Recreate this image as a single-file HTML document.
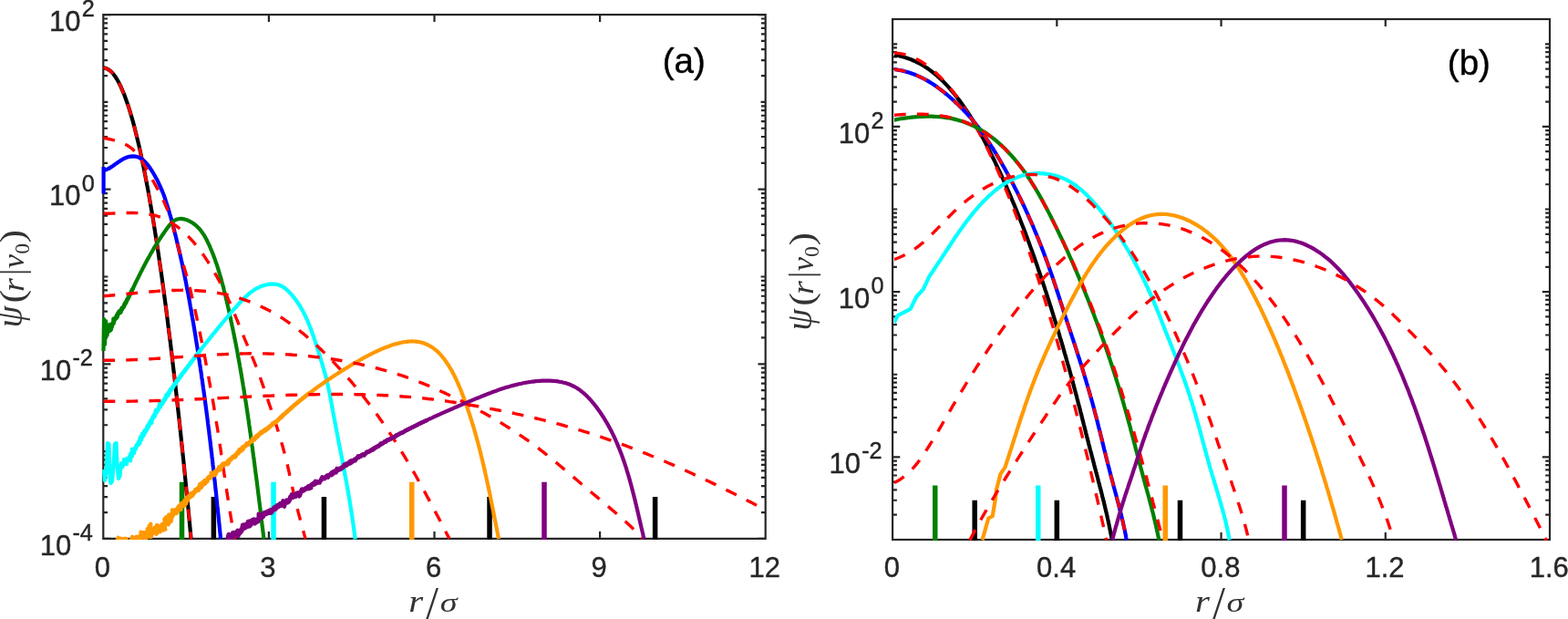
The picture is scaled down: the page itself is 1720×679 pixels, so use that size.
<!DOCTYPE html>
<html lang="en">
<head>
<meta charset="utf-8">
<title>psi(r|v0) distributions</title>
<style>
html,body{margin:0;padding:0;background:#fff;}
body{width:1720px;height:679px;overflow:hidden;}
svg{display:block;}
</style>
</head>
<body>
<svg width="1720" height="679" viewBox="0 0 1720 679">
<rect width="1720" height="679" fill="#ffffff"/>
<defs>
<clipPath id="ca"><rect x="111.10" y="16.1" width="729.80" height="575.80"/></clipPath>
<clipPath id="cb"><rect x="980.90" y="21.0" width="720.30" height="572.00"/></clipPath>
</defs>
<g font-family="'Liberation Sans', Arial, Helvetica, sans-serif" fill="#262626" stroke="#262626" stroke-width="0.4">
<path d="M113.3 562.06h4.8M839.7 562.06h-4.8M113.3 545.19h4.8M839.7 545.19h-4.8M113.3 533.22h4.8M839.7 533.22h-4.8M113.3 523.94h4.8M839.7 523.94h-4.8M113.3 516.35h4.8M839.7 516.35h-4.8M113.3 509.94h4.8M839.7 509.94h-4.8M113.3 504.38h4.8M839.7 504.38h-4.8M113.3 499.48h4.8M839.7 499.48h-4.8M113.3 495.1h5.1M839.7 495.1h-5.1M113.3 466.26h4.8M839.7 466.26h-4.8M113.3 449.39h4.8M839.7 449.39h-4.8M113.3 437.42h4.8M839.7 437.42h-4.8M113.3 428.14h4.8M839.7 428.14h-4.8M113.3 420.55h4.8M839.7 420.55h-4.8M113.3 414.14h4.8M839.7 414.14h-4.8M113.3 408.58h4.8M839.7 408.58h-4.8M113.3 403.68h4.8M839.7 403.68h-4.8M113.3 370.46h4.8M839.7 370.46h-4.8M113.3 353.59h4.8M839.7 353.59h-4.8M113.3 341.62h4.8M839.7 341.62h-4.8M113.3 332.34h4.8M839.7 332.34h-4.8M113.3 324.75h4.8M839.7 324.75h-4.8M113.3 318.34h4.8M839.7 318.34h-4.8M113.3 312.78h4.8M839.7 312.78h-4.8M113.3 307.88h4.8M839.7 307.88h-4.8M113.3 303.5h5.1M839.7 303.5h-5.1M113.3 274.66h4.8M839.7 274.66h-4.8M113.3 257.79h4.8M839.7 257.79h-4.8M113.3 245.82h4.8M839.7 245.82h-4.8M113.3 236.54h4.8M839.7 236.54h-4.8M113.3 228.95h4.8M839.7 228.95h-4.8M113.3 222.54h4.8M839.7 222.54h-4.8M113.3 216.98h4.8M839.7 216.98h-4.8M113.3 212.08h4.8M839.7 212.08h-4.8M113.3 178.86h4.8M839.7 178.86h-4.8M113.3 161.99h4.8M839.7 161.99h-4.8M113.3 150.02h4.8M839.7 150.02h-4.8M113.3 140.74h4.8M839.7 140.74h-4.8M113.3 133.15h4.8M839.7 133.15h-4.8M113.3 126.74h4.8M839.7 126.74h-4.8M113.3 121.18h4.8M839.7 121.18h-4.8M113.3 116.28h4.8M839.7 116.28h-4.8M113.3 111.9h5.1M839.7 111.9h-5.1M113.3 83.06h4.8M839.7 83.06h-4.8M113.3 66.19h4.8M839.7 66.19h-4.8M113.3 54.22h4.8M839.7 54.22h-4.8M113.3 44.94h4.8M839.7 44.94h-4.8M113.3 37.35h4.8M839.7 37.35h-4.8M113.3 30.94h4.8M839.7 30.94h-4.8M113.3 25.38h4.8M839.7 25.38h-4.8M113.3 20.48h4.8M839.7 20.48h-4.8" stroke="#262626" stroke-width="2.2" fill="none"/>
<path d="M113.3 590.9h8.2M839.7 590.9h-8.2M113.3 399.3h8.2M839.7 399.3h-8.2M113.3 207.7h8.2M839.7 207.7h-8.2M113.3 16.1h8.2M839.7 16.1h-8.2M294.9 590.9v-8M294.9 16.1v8M476.5 590.9v-8M476.5 16.1v8M658.1 590.9v-8M658.1 16.1v8" stroke="#262626" stroke-width="2.2" fill="none"/>
<rect x="113.3" y="16.1" width="726.4" height="574.8" fill="none" stroke="#262626" stroke-width="2.2"/>
<g clip-path="url(#ca)">
<rect x="196.75" y="528.75" width="5.5" height="63.15" fill="#008000" stroke="none"/>
<rect x="297.25" y="528.75" width="5.5" height="63.15" fill="#00ffff" stroke="none"/>
<rect x="449" y="528.75" width="5.5" height="63.15" fill="#ff9900" stroke="none"/>
<rect x="594.25" y="528.75" width="5.5" height="63.15" fill="#800080" stroke="none"/>
<rect x="231.62" y="545" width="5.5" height="46.9" fill="#000000" stroke="none"/>
<rect x="352.68" y="545" width="5.5" height="46.9" fill="#000000" stroke="none"/>
<rect x="534.28" y="545" width="5.5" height="46.9" fill="#000000" stroke="none"/>
<rect x="715.88" y="545" width="5.5" height="46.9" fill="#000000" stroke="none"/>
<path d="M113.3 74.5L114.9 74.6L116.6 75.1L118.2 75.8L119.8 76.9L121.5 78.2L123.1 79.8L124.7 81.8L126.4 84.0L128.0 86.5L129.6 89.3L131.3 92.5L132.9 95.9L134.5 99.6L136.2 103.6L137.8 107.9L139.4 112.5L141.1 117.4L142.7 122.6L144.3 128.1L146.0 133.9L147.6 140.0L149.2 146.4L150.8 153.0L152.5 160.0L154.1 167.3L155.7 174.9L157.4 182.7L159.0 190.9L160.6 199.4L162.3 208.1L163.9 217.2L165.5 226.5L167.2 236.2L168.8 246.1L170.4 256.4L172.1 266.9L173.7 277.7L175.3 288.9L177.0 300.3L178.6 312.0L180.2 324.1L181.9 336.4L183.5 349.0L185.1 361.9L186.8 375.1L188.4 388.6L190.0 402.5L191.7 416.6L193.3 431.0L194.9 445.7L196.6 460.7L198.2 475.9L199.8 491.5L201.5 507.4L203.1 523.6L204.7 540.1L206.4 556.9L208.0 573.9L209.6 591.3" fill="none" stroke="#000000" stroke-width="4.2" stroke-linejoin="round"/>
<path d="M113.3 74.5L114.9 74.6L116.6 75.1L118.2 75.8L119.8 76.9L121.5 78.2L123.1 79.8L124.7 81.8L126.4 84.0L128.0 86.5L129.6 89.3L131.3 92.5L132.9 95.9L134.5 99.6L136.2 103.6L137.8 107.9L139.4 112.5L141.1 117.4L142.7 122.6L144.3 128.1L146.0 133.9L147.6 140.0L149.2 146.4L150.8 153.0L152.5 160.0L154.1 167.3L155.7 174.9L157.4 182.7L159.0 190.9L160.6 199.4L162.3 208.1L163.9 217.2L165.5 226.5L167.2 236.2L168.8 246.1L170.4 256.4L172.1 266.9L173.7 277.7L175.3 288.9L177.0 300.3L178.6 312.0L180.2 324.1L181.9 336.4L183.5 349.0L185.1 361.9L186.8 375.1L188.4 388.6L190.0 402.5L191.7 416.6L193.3 431.0L194.9 445.7L196.6 460.7L198.2 475.9L199.8 491.5L201.5 507.4L203.1 523.6L204.7 540.1L206.4 556.9L208.0 573.9L209.6 591.3" fill="none" stroke="#ff0000" stroke-width="3.4" stroke-linejoin="round" stroke-dasharray="12.8 12.2"/>
<path d="M113.6 212.5V183" fill="none" stroke="#0000ff" stroke-width="4.2"/>
<path d="M114.1 186.9L116.4 186.2L118.9 185.1L121.3 183.6L123.9 181.9L126.5 180.1L129.1 178.2L131.8 176.4L134.6 174.7L137.4 173.3L140.2 172.2L143.1 171.6L145.9 171.4L148.7 171.6L151.4 172.3L154.0 173.5L156.4 175.1L158.6 177.0L160.7 179.3L162.7 181.7L164.5 184.3L166.3 186.9L167.9 189.5L169.5 192.2L171.0 194.9L172.5 197.6L173.8 200.3L175.1 203.1L176.4 205.9L177.5 208.7L178.7 211.5L179.8 214.3L180.8 217.2L181.8 220.1L182.7 223.0L183.6 225.8L184.5 228.7L185.4 231.7L186.2 234.6L187.1 237.5L187.9 240.4L188.7 243.4L189.4 246.3L190.2 249.2L191.0 252.2L191.7 255.1L192.5 258.1L193.2 261.0L193.9 264.0L194.6 266.9L195.3 269.9L196.0 272.8L196.7 275.8L197.4 278.7L198.1 281.7L198.7 284.7L199.4 287.6L200.0 290.6L200.6 293.6L201.3 296.5L201.9 299.5L202.5 302.5L203.1 305.5L203.7 308.4L204.3 311.4L204.8 314.4L205.4 317.4L206.0 320.4L206.6 323.4L207.1 326.4L207.7 329.3L208.2 332.3L208.7 335.3L209.3 338.3L209.8 341.3L210.3 344.3L210.8 347.3L211.4 350.3L211.9 353.3L212.4 356.3L212.9 359.3L213.4 362.3L213.9 365.3L214.4 368.3L214.8 371.3L215.3 374.3L215.8 377.3L216.3 380.3L216.7 383.3L217.2 386.3L217.7 389.3L218.1 392.3L218.6 395.3L219.0 398.3L219.5 401.3L219.9 404.3L220.4 407.3L220.8 410.3L221.2 413.3L221.7 416.3L222.1 419.3L222.5 422.3L222.9 425.3L223.4 428.3L223.8 431.4L224.2 434.4L224.6 437.4L225.0 440.4L225.4 443.4L225.8 446.4L226.2 449.4L226.6 452.4L227.0 455.4L227.4 458.5L227.8 461.5L228.1 464.5L228.5 467.5L228.9 470.5L229.3 473.5L229.6 476.5L230.0 479.5L230.4 482.6L230.7 485.6L231.1 488.6L231.4 491.6L231.8 494.6L232.2 497.6L232.5 500.7L232.9 503.7L233.2 506.7L233.5 509.7L233.9 512.7L234.2 515.8L234.6 518.8L234.9 521.8L235.2 524.8L235.6 527.8L235.9 530.9L236.2 533.9L236.5 536.9L236.9 539.9L237.2 542.9L237.5 546.0L237.8 549.0L238.1 552.0L238.4 555.0L238.8 558.0L239.1 561.1L239.4 564.1L239.7 567.1L240.0 570.1L240.3 573.2L240.6 576.2L240.9 579.2L241.2 582.2L241.5 585.3L241.8 588.3L242.1 591.3" fill="none" stroke="#0000ff" stroke-width="4.2" stroke-linejoin="round"/>
<path d="M113.4 151.3L116.3 151.8L119.2 152.5L122.2 153.2L125.3 153.9L128.3 154.8L131.3 155.7L134.2 156.8L137.0 158.1L139.6 159.5L142.1 161.1L144.5 162.8L146.6 164.8L148.6 166.9L150.5 169.2L152.2 171.6L153.9 174.0L155.5 176.6L157.0 179.2L158.5 181.9L160.0 184.5L161.5 187.2L163.1 189.8L164.6 192.5L166.1 195.2L167.6 197.8L169.1 200.5L170.5 203.1L172.0 205.8L173.5 208.5L174.9 211.2L176.3 213.9L177.6 216.6L178.9 219.3L180.2 222.0L181.4 224.8L182.6 227.6L183.8 230.3L184.9 233.2L185.9 236.0L186.9 238.8L187.8 241.7L188.6 244.6L189.4 247.5L190.2 250.4L190.9 253.4L191.7 256.3L192.4 259.2L193.1 262.2L193.9 265.1L194.6 268.0L195.4 271.0L196.2 273.9L197.1 276.8L197.9 279.7L198.8 282.6L199.7 285.5L200.6 288.4L201.4 291.3L202.3 294.2L203.2 297.1L204.0 300.0L204.8 302.9L205.6 305.8L206.4 308.7L207.2 311.6L207.9 314.5L208.7 317.5L209.4 320.4L210.1 323.3L210.8 326.3L211.5 329.2L212.2 332.2L212.9 335.1L213.5 338.1L214.2 341.0L214.8 344.0L215.5 346.9L216.1 349.9L216.7 352.8L217.4 355.8L218.0 358.8L218.6 361.7L219.2 364.7L219.8 367.6L220.4 370.6L221.0 373.6L221.6 376.5L222.2 379.5L222.8 382.5L223.4 385.4L224.0 388.4L224.6 391.4L225.2 394.3L225.7 397.3L226.3 400.3L226.9 403.2L227.4 406.2L228.0 409.2L228.6 412.2L229.1 415.1L229.6 418.1L230.2 421.1L230.7 424.1L231.3 427.0L231.8 430.0L232.3 433.0L232.8 436.0L233.4 439.0L233.9 441.9L234.4 444.9L234.9 447.9L235.4 450.9L235.9 453.9L236.4 456.9L236.9 459.8L237.3 462.8L237.8 465.8L238.3 468.8L238.8 471.8L239.2 474.8L239.7 477.8L240.2 480.8L240.6 483.7L241.1 486.7L241.5 489.7L242.0 492.7L242.4 495.7L242.8 498.7L243.3 501.7L243.7 504.7L244.2 507.7L244.6 510.7L245.0 513.7L245.5 516.7L245.9 519.6L246.4 522.6L246.8 525.6L247.2 528.6L247.7 531.6L248.1 534.6L248.6 537.6L249.0 540.6L249.5 543.6L250.0 546.6L250.4 549.5L250.9 552.5L251.4 555.5L251.8 558.5L252.3 561.5L252.8 564.5L253.3 567.5L253.8 570.4L254.3 573.4L254.8 576.4L255.4 579.4L255.9 582.4L256.4 585.3L257.0 588.3L257.5 591.3" fill="none" stroke="#ff0000" stroke-width="3.4" stroke-linejoin="round" stroke-dasharray="12.8 12.2"/>
<path d="M113.5 385L114 350L115 378L116 352L117.5 368L119 357L121 362" fill="none" stroke="#008000" stroke-width="4.2" stroke-linejoin="round"/>
<path d="M114.5 367.6L116.5 364.6L116.7 362.6L118.6 357.6L120.2 362.2L120.2 363.2L121.8 361.8L122.3 357.2L124.0 354.2L124.6 355.0L124.4 349.5L125.1 350.2L126.4 350.3L128.2 348.7L128.9 347.2L129.6 343.8L130.2 342.1L131.0 343.0L132.2 342.2L132.9 339.8L133.5 337.8L134.4 337.6L135.6 336.8L136.6 334.6L137.1 332.7L137.6 332.8L138.6 330.9L139.3 328.9L140.3 327.6L140.9 325.9L141.6 325.1L142.5 323.2L143.1 321.7L143.8 320.4L144.5 319.0L145.3 317.5L146.0 316.1" fill="none" stroke="#008000" stroke-width="4.2" stroke-linejoin="round"/>
<path d="M115.0 364.8L116.2 361.6L118.2 362.3L118.7 362.5L120.2 360.6L119.9 356.2L121.4 359.6L122.6 359.2L123.0 355.3L124.8 352.3L124.6 350.8L125.7 349.5L125.8 350.5L126.9 348.1L127.9 346.0L129.0 344.0L129.9 342.7L131.2 343.1L132.2 341.5L132.9 339.4L133.9 339.1L134.6 337.5L135.3 337.5L136.0 334.8L136.9 332.7L137.9 332.8L138.7 330.5L139.2 328.7L140.1 328.2L141.0 326.1L141.7 325.1L142.4 323.3L143.1 321.7L143.8 320.4L144.6 319.0L145.3 317.5L146.0 316.1" fill="none" stroke="#008000" stroke-width="4.2" stroke-linejoin="round"/>
<path d="M115.8 368.1L115.0 357.5L117.9 364.5L118.7 361.8L118.7 362.7L120.6 359.8L121.8 360.7L123.1 356.5L123.6 354.3L124.1 354.5L125.2 352.8L125.8 350.4L126.4 349.2L127.1 349.0L128.4 347.5L129.3 344.9L130.7 343.7L130.9 341.0L132.4 342.9L132.9 339.8L134.0 339.7L134.4 337.6L135.3 337.2L136.2 335.5L137.2 333.4L137.9 332.5L138.8 330.0L139.5 329.5L140.3 327.1L140.9 326.2L141.6 325.0L142.4 323.3L143.1 321.8L143.9 320.3L144.5 318.9L145.3 317.5L146.0 316.1L146.7 314.6L147.4 313.2L148.0 311.7L148.7 310.3L149.4 308.8L150.2 307.4L150.9 305.9L151.6 304.5L152.3 303.0L153.0 301.6L153.7 300.2L154.4 298.7L155.2 297.3L155.9 295.9L156.6 294.4L157.4 293.0L158.1 291.6L158.9 290.1L159.6 288.7L160.4 287.3L161.1 285.9L161.9 284.5L162.7 283.1L163.5 281.7L164.3 280.3L165.0 278.9L165.8 277.5L166.7 276.1L167.5 274.7L168.3 273.3L169.1 271.9L169.9 270.5L170.8 269.2L171.6 267.8L172.5 266.4L173.3 265.1L174.2 263.7L175.1 262.4L176.0 261.0L176.9 259.7L177.8 258.3L178.7 257.0L179.6 255.7L180.5 254.4L181.4 253.1L182.4 251.7L183.3 250.4L184.3 249.2L185.3 247.9L186.3 246.6L187.4 245.4L188.5 244.3L189.7 243.2L190.9 242.2L192.3 241.4L193.8 240.7L195.3 240.3L196.9 240.0L198.5 239.9L200.1 240.1L201.7 240.3L203.2 240.8L204.8 241.2L206.2 241.9L207.7 242.5L209.1 243.3L210.5 244.1L211.9 245.0L213.2 245.9L214.4 246.9L215.7 248.0L216.8 249.1L218.0 250.2L219.0 251.4L220.1 252.7L221.0 253.9L222.0 255.2L222.9 256.6L223.8 257.9L224.6 259.3L225.4 260.7L226.2 262.1L226.9 263.5L227.6 265.0L228.3 266.4L229.0 267.9L229.7 269.3L230.3 270.8L230.9 272.3L231.6 273.8L232.2 275.3L232.8 276.8L233.4 278.2L234.0 279.7L234.5 281.3L235.1 282.8L235.7 284.3L236.2 285.8L236.7 287.3L237.2 288.8L237.8 290.3L238.3 291.9L238.8 293.4L239.3 294.9L239.7 296.5L240.2 298.0L240.7 299.6L241.1 301.1L241.6 302.6L242.0 304.2L242.5 305.7L242.9 307.3L243.3 308.8L243.7 310.4L244.1 311.9L244.6 313.5L245.0 315.1L245.4 316.6L245.7 318.2L246.1 319.7L246.5 321.3L246.9 322.9L247.3 324.4L247.7 326.0L248.0 327.6L248.4 329.1L248.8 330.7L249.1 332.3L249.5 333.8L249.8 335.4L250.2 337.0L250.6 338.5L250.9 340.1L251.3 341.7L251.6 343.2L251.9 344.8L252.3 346.4L252.6 348.0L253.0 349.5L253.3 351.1L253.6 352.7L254.0 354.3L254.3 355.8L254.6 357.4L255.0 359.0L255.3 360.6L255.6 362.1L255.9 363.7L256.3 365.3L256.6 366.9L256.9 368.4L257.2 370.0L257.5 371.6L257.8 373.2L258.1 374.8L258.5 376.3L258.8 377.9L259.1 379.5L259.4 381.1L259.7 382.7L260.0 384.2L260.3 385.8L260.6 387.4L260.8 389.0L261.1 390.6L261.4 392.1L261.7 393.7L262.0 395.3L262.3 396.9L262.6 398.5L262.9 400.1L263.1 401.6L263.4 403.2L263.7 404.8L264.0 406.4L264.2 408.0L264.5 409.6L264.8 411.2L265.0 412.7L265.3 414.3L265.6 415.9L265.8 417.5L266.1 419.1L266.4 420.7L266.6 422.3L266.9 423.9L267.2 425.4L267.4 427.0L267.7 428.6L267.9 430.2L268.2 431.8L268.4 433.4L268.7 435.0L268.9 436.6L269.2 438.2L269.4 439.7L269.7 441.3L269.9 442.9L270.2 444.5L270.4 446.1L270.6 447.7L270.9 449.3L271.1 450.9L271.4 452.5L271.6 454.1L271.8 455.7L272.1 457.2L272.3 458.8L272.5 460.4L272.8 462.0L273.0 463.6L273.2 465.2L273.4 466.8L273.7 468.4L273.9 470.0L274.1 471.6L274.3 473.2L274.6 474.8L274.8 476.4L275.0 478.0L275.2 479.5L275.5 481.1L275.7 482.7L275.9 484.3L276.1 485.9L276.3 487.5L276.5 489.1L276.8 490.7L277.0 492.3L277.2 493.9L277.4 495.5L277.6 497.1L277.8 498.7L278.0 500.3L278.3 501.9L278.5 503.5L278.7 505.1L278.9 506.7L279.1 508.3L279.3 509.8L279.5 511.4L279.7 513.0L279.9 514.6L280.1 516.2L280.3 517.8L280.5 519.4L280.7 521.0L281.0 522.6L281.2 524.2L281.4 525.8L281.6 527.4L281.8 529.0L282.0 530.6L282.2 532.2L282.4 533.8L282.6 535.4L282.8 537.0L283.0 538.6L283.2 540.2L283.4 541.8L283.6 543.4L283.8 545.0L284.0 546.6L284.2 548.2L284.4 549.8L284.6 551.3L284.8 552.9L285.0 554.5L285.2 556.1L285.4 557.7L285.6 559.3L285.8 560.9L286.0 562.5L286.2 564.1L286.4 565.7L286.6 567.3L286.8 568.9L286.9 570.5L287.1 572.1L287.3 573.7L287.5 575.3L287.7 576.9L287.9 578.5L288.1 580.1L288.3 581.7L288.5 583.3L288.7 584.9L288.9 586.5L289.1 588.1L289.3 589.7L289.5 591.3" fill="none" stroke="#008000" stroke-width="4.2" stroke-linejoin="round"/>
<path d="M113.6 234.3L116.4 234.3L119.3 234.2L122.3 234.1L125.2 234.0L128.2 233.9L131.3 233.7L134.3 233.6L137.4 233.5L140.5 233.5L143.6 233.4L146.7 233.5L149.8 233.6L152.8 233.7L155.9 233.9L158.9 234.2L161.9 234.7L164.9 235.2L167.8 235.8L170.7 236.5L173.6 237.4L176.4 238.4L179.1 239.6L181.8 240.8L184.4 242.2L187.0 243.7L189.5 245.2L192.0 246.9L194.4 248.7L196.8 250.5L199.2 252.5L201.4 254.5L203.7 256.6L205.8 258.7L208.0 260.9L210.0 263.1L212.1 265.4L214.1 267.8L216.0 270.1L217.9 272.5L219.7 274.9L221.5 277.4L223.3 279.9L225.0 282.4L226.6 284.9L228.3 287.4L229.9 290.0L231.5 292.5L233.1 295.1L234.6 297.7L236.1 300.3L237.6 302.9L239.1 305.6L240.5 308.2L242.0 310.9L243.3 313.5L244.7 316.2L246.1 318.9L247.4 321.6L248.6 324.4L249.9 327.1L251.1 329.9L252.4 332.6L253.6 335.4L254.7 338.2L255.9 341.0L257.1 343.8L258.2 346.6L259.3 349.4L260.5 352.2L261.6 355.0L262.7 357.8L263.8 360.6L265.0 363.4L266.1 366.2L267.3 369.0L268.4 371.8L269.6 374.6L270.8 377.4L271.9 380.2L273.1 382.9L274.3 385.7L275.5 388.5L276.6 391.3L277.8 394.1L278.9 396.9L280.0 399.7L281.1 402.5L282.2 405.3L283.2 408.2L284.3 411.0L285.3 413.8L286.3 416.7L287.3 419.6L288.3 422.4L289.3 425.3L290.2 428.1L291.2 431.0L292.2 433.9L293.2 436.7L294.2 439.6L295.1 442.4L296.1 445.3L297.1 448.2L298.0 451.1L299.0 453.9L300.0 456.8L300.9 459.7L301.8 462.5L302.7 465.4L303.7 468.3L304.6 471.2L305.5 474.1L306.3 477.0L307.2 479.9L308.1 482.8L308.9 485.7L309.7 488.6L310.6 491.5L311.3 494.4L312.1 497.3L312.9 500.2L313.6 503.1L314.4 506.1L315.1 509.0L315.7 511.9L316.4 514.9L317.1 517.8L317.7 520.8L318.3 523.8L319.0 526.7L319.6 529.7L320.2 532.6L320.9 535.6L321.6 538.5L322.2 541.5L322.9 544.4L323.6 547.4L324.3 550.3L325.0 553.3L325.8 556.2L326.5 559.1L327.2 562.1L328.0 565.0L328.8 567.9L329.5 570.9L330.3 573.8L331.1 576.7L331.9 579.6L332.7 582.5L333.5 585.4L334.3 588.4L335.1 591.3" fill="none" stroke="#ff0000" stroke-width="3.4" stroke-linejoin="round" stroke-dasharray="12.8 12.2"/>
<path d="M114 515L115 527L116.5 518L118 486L119.5 487L120.5 520L121.5 530L123 528L124.5 512L126 487L127.5 486L128.5 510L130 525L131.5 522L133 508L134.5 512L136 504L137.5 509L139 503L140.5 505" fill="none" stroke="#00ffff" stroke-width="4.2" stroke-linejoin="round"/>
<path d="M137.7 507.2L137.4 504.9L139.6 505.3L140.9 502.6L142.3 502.7L143.1 505.4L143.3 500.5L144.6 499.7L145.3 495.7L144.9 494.2L146.8 495.7L148.2 491.4L149.3 490.1L148.9 490.9L149.9 488.1L151.2 488.5L152.1 484.7L152.8 486.1L153.7 479.9L154.3 480.6L154.7 478.6L155.3 479.4L156.1 475.6L157.5 477.8L157.8 473.6L158.8 474.9L159.4 472.1L160.7 472.2L161.2 470.9L162.8 467.3L162.7 466.8L163.8 466.2L164.9 464.0L166.5 464.0L166.1 462.6L166.9 459.3L168.1 456.2L168.8 456.8L169.6 457.0L170.4 453.8L171.5 452.3L171.5 451.0L172.4 450.6L173.5 450.1L174.6 445.3L175.9 446.6L176.3 444.0L177.0 441.8L178.5 442.7L178.5 440.2L179.6 438.6L181.0 437.7L181.4 435.6L182.0 435.6L183.4 433.2L184.2 433.9L185.5 431.5L185.8 429.5L187.0 428.3L188.0 426.4L188.5 426.2L189.8 424.9L190.6 422.0L191.9 421.9L192.3 420.9L193.5 419.7L194.5 417.7L195.5 416.3L196.4 415.3L197.1 414.4L198.2 412.9L199.1 411.5L200.0 410.0L200.9 408.5L201.9 407.0L203.0 406.4L203.9 404.8L205.0 403.8L205.8 403.1L206.9 400.8L207.7 400.1L208.8 398.4L209.7 397.2L210.8 395.9L211.7 394.7L212.7 393.5L213.6 392.2L214.6 391.0L215.6 389.6L216.6 388.4L217.6 387.1L218.6 385.8L219.6 384.5" fill="none" stroke="#00ffff" stroke-width="4.2" stroke-linejoin="round"/>
<path d="M137.0 505.5L139.5 506.4L139.9 503.1L141.0 504.4L141.5 503.5L143.0 498.0L143.6 501.3L145.0 500.3L145.6 493.1L145.8 495.5L146.6 495.0L147.7 493.4L148.4 491.3L150.0 489.0L150.2 488.4L150.6 487.3L151.9 486.2L153.1 486.0L153.5 486.1L153.5 482.9L155.0 482.5L155.3 481.1L156.9 477.7L157.5 476.8L158.0 474.2L159.2 474.7L159.8 472.6L161.5 470.6L161.3 470.7L161.4 468.8L163.3 466.7L163.6 464.9L165.1 463.7L165.6 460.9L166.4 460.7L167.0 458.6L167.7 458.8L168.3 457.0L169.6 454.3L170.3 453.6L170.7 450.1L172.1 452.1L172.7 449.3L173.8 448.3L174.5 446.9L174.9 443.1L175.8 445.1L177.1 444.3L178.4 441.3L178.7 440.2L180.1 439.4L180.7 437.2L181.7 437.3L182.3 433.2L183.3 433.1L184.8 432.9L184.9 430.5L186.0 429.8L186.6 428.0L187.8 426.6L189.0 425.7L189.4 424.0L190.6 422.4L191.4 421.7L192.5 420.5L193.6 418.0L194.3 417.0L195.1 416.2L196.5 415.3L197.4 412.7L198.1 412.4L199.1 410.5L200.1 410.2L200.7 408.7L202.1 407.9L203.0 406.4L203.7 405.0L204.8 403.5L206.0 402.1L206.7 400.9L207.9 399.7L208.9 398.5L209.8 397.4L210.7 396.1L211.7 394.6L212.6 393.6L213.7 392.2L214.6 390.8L215.6 389.6L216.6 388.3L217.6 387.1L218.6 385.8L219.6 384.5" fill="none" stroke="#00ffff" stroke-width="4.2" stroke-linejoin="round"/>
<path d="M138.2 507.8L139.0 509.0L138.4 507.4L140.5 502.9L141.8 501.9L143.3 500.2L144.3 500.8L144.9 498.3L144.5 498.3L144.8 492.6L147.1 497.0L147.6 492.8L148.9 492.7L149.3 490.0L150.3 488.3L150.3 488.2L152.0 487.4L152.4 484.4L153.6 483.1L154.5 483.0L155.0 479.3L156.0 477.0L156.7 478.3L157.8 475.4L158.5 472.3L158.9 472.5L159.7 471.6L161.4 469.2L161.5 467.4L162.7 468.1L163.3 467.8L163.7 464.9L164.4 462.9L165.6 462.9L166.4 461.9L167.4 459.3L167.5 458.9L168.6 458.1L169.6 455.3L170.9 453.2L170.5 453.1L172.2 451.6L172.7 451.1L173.9 447.3L174.4 446.6L175.5 445.1L176.8 442.8L177.3 443.3L178.1 442.3L179.0 439.8L179.6 440.3L180.8 438.5L181.5 436.9L182.2 435.4L183.3 434.5L184.2 431.4L185.3 431.5L186.0 430.2L186.8 427.2L188.2 427.3L189.0 425.6L189.9 425.0L190.7 422.9L191.5 421.8L192.4 420.7L193.4 418.7L194.5 418.2L195.3 416.6L196.0 415.5L197.2 413.8L198.0 413.2L199.1 411.7L199.9 410.0L200.9 409.1L202.0 408.0L202.9 406.8L203.8 404.5L204.9 403.9L206.0 402.5L206.7 401.1L207.9 399.6L208.7 398.8L209.7 397.1L210.7 396.1L211.6 394.9L212.7 393.3L213.7 392.1L214.6 390.8L215.6 389.6L216.6 388.4L217.6 387.1L218.6 385.8L219.6 384.5L220.6 383.3L221.5 382.0L222.5 380.7L223.5 379.5L224.5 378.2L225.5 376.9L226.5 375.7L227.5 374.4L228.5 373.2L229.5 371.9L230.5 370.6L231.5 369.4L232.5 368.1L233.5 366.9L234.6 365.6L235.6 364.4L236.6 363.1L237.6 361.9L238.6 360.6L239.6 359.4L240.7 358.2L241.7 356.9L242.7 355.7L243.7 354.4L244.8 353.2L245.8 352.0L246.8 350.7L247.9 349.5L248.9 348.3L250.0 347.1L251.0 345.8L252.1 344.6L253.1 343.4L254.2 342.2L255.2 341.0L256.3 339.7L257.3 338.5L258.4 337.3L259.5 336.1L260.5 334.9L261.6 333.7L262.7 332.5L263.8 331.3L264.9 330.2L266.0 329.0L267.1 327.9L268.2 326.7L269.4 325.6L270.6 324.5L271.8 323.4L273.0 322.4L274.2 321.4L275.5 320.4L276.8 319.4L278.1 318.5L279.5 317.6L280.8 316.8L282.2 316.0L283.7 315.3L285.1 314.6L286.6 314.0L288.1 313.5L289.7 313.0L291.2 312.5L292.8 312.2L294.4 311.9L296.0 311.7L297.6 311.6L299.2 311.6L300.8 311.6L302.4 311.8L304.0 312.0L305.5 312.5L307.0 313.0L308.5 313.7L309.9 314.4L311.3 315.3L312.6 316.2L313.8 317.2L315.0 318.3L316.2 319.4L317.3 320.5L318.5 321.7L319.5 322.9L320.6 324.1L321.6 325.3L322.6 326.6L323.6 327.9L324.6 329.1L325.5 330.4L326.4 331.8L327.3 333.1L328.2 334.5L329.1 335.8L329.9 337.2L330.7 338.6L331.5 340.0L332.3 341.4L333.0 342.8L333.8 344.3L334.5 345.7L335.2 347.1L335.8 348.6L336.5 350.1L337.2 351.5L337.8 353.0L338.4 354.5L339.0 356.0L339.6 357.5L340.2 359.0L340.8 360.5L341.4 362.0L341.9 363.5L342.5 365.0L343.0 366.5L343.5 368.0L344.1 369.6L344.6 371.1L345.1 372.6L345.6 374.1L346.1 375.7L346.6 377.2L347.1 378.7L347.6 380.3L348.0 381.8L348.5 383.3L349.0 384.9L349.5 386.4L350.0 387.9L350.5 389.5L350.9 391.0L351.4 392.5L351.9 394.1L352.3 395.6L352.8 397.2L353.3 398.7L353.7 400.2L354.2 401.8L354.6 403.3L355.1 404.9L355.5 406.4L356.0 408.0L356.4 409.5L356.8 411.1L357.2 412.6L357.6 414.2L358.0 415.7L358.4 417.3L358.8 418.9L359.1 420.4L359.5 422.0L359.8 423.6L360.2 425.2L360.5 426.7L360.9 428.3L361.2 429.9L361.5 431.5L361.8 433.0L362.1 434.6L362.4 436.2L362.7 437.8L363.0 439.3L363.3 440.9L363.6 442.5L363.9 444.1L364.2 445.7L364.5 447.3L364.8 448.8L365.0 450.4L365.3 452.0L365.6 453.6L365.9 455.2L366.2 456.8L366.5 458.3L366.8 459.9L367.1 461.5L367.4 463.1L367.7 464.7L368.0 466.2L368.3 467.8L368.6 469.4L368.9 471.0L369.2 472.6L369.5 474.1L369.8 475.7L370.1 477.3L370.4 478.9L370.7 480.5L371.0 482.0L371.3 483.6L371.6 485.2L371.9 486.8L372.2 488.4L372.5 489.9L372.8 491.5L373.1 493.1L373.5 494.7L373.8 496.3L374.1 497.8L374.4 499.4L374.7 501.0L375.0 502.6L375.3 504.1L375.6 505.7L375.9 507.3L376.2 508.9L376.5 510.5L376.8 512.0L377.1 513.6L377.4 515.2L377.7 516.8L378.0 518.4L378.3 520.0L378.6 521.5L378.9 523.1L379.2 524.7L379.5 526.3L379.8 527.9L380.1 529.4L380.3 531.0L380.6 532.6L380.9 534.2L381.2 535.8L381.5 537.4L381.8 538.9L382.0 540.5L382.3 542.1L382.6 543.7L382.9 545.3L383.1 546.9L383.4 548.5L383.7 550.0L383.9 551.6L384.2 553.2L384.4 554.8L384.7 556.4L384.9 558.0L385.2 559.6L385.4 561.2L385.7 562.7L385.9 564.3L386.2 565.9L386.4 567.5L386.6 569.1L386.9 570.7L387.1 572.3L387.3 573.9L387.5 575.5L387.8 577.1L388.0 578.7L388.2 580.3L388.4 581.9L388.6 583.5L388.8 585.1L389.0 586.6L389.2 588.2L389.4 589.8L389.6 591.4" fill="none" stroke="#00ffff" stroke-width="4.2" stroke-linejoin="round"/>
<path d="M113.5 324.8L116.4 324.5L119.4 324.3L122.4 324.0L125.4 323.7L128.4 323.5L131.4 323.2L134.4 322.9L137.4 322.6L140.5 322.3L143.5 322.0L146.5 321.7L149.5 321.4L152.5 321.1L155.6 320.8L158.6 320.6L161.6 320.3L164.7 320.0L167.7 319.8L170.7 319.6L173.8 319.3L176.8 319.1L179.8 319.0L182.9 318.8L185.9 318.7L188.9 318.5L192.0 318.5L195.0 318.4L198.0 318.4L201.0 318.3L204.1 318.4L207.1 318.4L210.1 318.5L213.1 318.6L216.1 318.8L219.2 319.0L222.2 319.2L225.2 319.5L228.2 319.8L231.2 320.2L234.1 320.6L237.1 321.1L240.1 321.6L243.1 322.1L246.1 322.7L249.0 323.4L252.0 324.1L254.9 324.9L257.8 325.7L260.8 326.5L263.7 327.4L266.6 328.4L269.5 329.4L272.3 330.4L275.2 331.5L278.0 332.6L280.8 333.8L283.6 335.0L286.4 336.3L289.2 337.6L291.9 338.9L294.6 340.3L297.3 341.7L300.0 343.2L302.6 344.7L305.2 346.2L307.8 347.8L310.3 349.4L312.8 351.1L315.3 352.8L317.8 354.5L320.3 356.3L322.7 358.1L325.1 359.9L327.5 361.8L329.8 363.7L332.2 365.6L334.5 367.5L336.8 369.5L339.1 371.5L341.4 373.5L343.6 375.5L345.8 377.6L348.1 379.6L350.3 381.7L352.5 383.8L354.6 385.9L356.8 388.1L358.9 390.2L361.1 392.3L363.2 394.5L365.3 396.7L367.4 398.9L369.5 401.1L371.6 403.3L373.6 405.5L375.6 407.8L377.7 410.0L379.7 412.3L381.7 414.6L383.7 416.9L385.7 419.2L387.6 421.5L389.6 423.8L391.5 426.1L393.4 428.5L395.3 430.8L397.2 433.2L399.1 435.6L401.0 438.0L402.8 440.4L404.7 442.8L406.5 445.2L408.3 447.6L410.1 450.1L411.9 452.5L413.7 455.0L415.5 457.5L417.2 459.9L419.0 462.4L420.7 464.9L422.4 467.4L424.1 469.9L425.8 472.4L427.5 475.0L429.2 477.5L430.8 480.0L432.5 482.6L434.1 485.1L435.7 487.7L437.3 490.3L438.9 492.8L440.5 495.4L442.1 498.0L443.7 500.6L445.2 503.2L446.8 505.8L448.3 508.4L449.8 511.0L451.4 513.6L452.9 516.3L454.4 518.9L455.9 521.5L457.4 524.2L458.8 526.8L460.3 529.5L461.8 532.1L463.2 534.8L464.7 537.4L466.2 540.1L467.6 542.7L469.0 545.4L470.5 548.1L471.9 550.8L473.3 553.4L474.8 556.1L476.2 558.8L477.6 561.5L479.0 564.2L480.4 566.8L481.8 569.5L483.2 572.2L484.6 574.9L486.0 577.6L487.4 580.3L488.8 583.0L490.2 585.7L491.6 588.4L493.0 591.0" fill="none" stroke="#ff0000" stroke-width="3.4" stroke-linejoin="round" stroke-dasharray="12.8 12.2"/>
<path d="M129.5 594.4L129.7 596.7L130.6 597.4L134.3 591.5L133.1 590.8L135.8 594.5L138.4 592.4L138.6 595.0L140.7 597.6L141.7 595.5L142.6 597.4L145.2 588.7L146.3 597.9L147.4 594.4L150.1 591.8L150.6 593.3L152.5 589.3L153.1 588.3L156.4 584.2L157.2 587.9L157.8 584.1L158.6 585.1L159.9 590.7L161.3 586.8L161.7 580.0L166.3 587.1L164.6 589.0L168.5 583.9L170.0 583.2L169.9 582.1L171.6 577.5L171.5 585.9L174.3 582.6L175.3 579.5L178.2 578.7L177.8 577.3L179.1 581.7L181.4 574.7L180.4 569.4L182.4 573.7L185.0 574.5L185.0 572.6L186.8 568.7L185.1 564.7L187.7 571.9L189.1 563.8L189.3 565.0L191.8 563.1L191.4 560.9L192.9 560.1L194.4 557.6L195.4 556.8L196.2 556.3L196.9 555.8L198.5 559.2L199.1 551.8L201.3 554.4L201.5 551.3L202.2 549.3L204.4 546.4L205.8 547.6L206.3 544.7L206.9 545.8L207.5 544.8L209.1 541.1L211.0 543.8L212.0 540.6L212.0 539.8L214.1 539.1L214.3 536.9L216.6 538.1L218.2 537.9L218.5 534.6L220.3 534.6L220.7 535.0L222.1 532.1L223.7 529.7L224.9 530.7L225.5 528.1L227.4 526.5L228.1 523.7L228.0 524.8L230.7 522.4L231.9 522.8L231.7 518.6L234.0 518.7L235.6 521.2L236.6 520.5L237.4 517.6L238.6 516.4L240.1 512.1L241.2 514.5L242.8 512.0L243.9 509.1L245.5 509.5L246.0 508.4L247.6 509.3L248.8 507.7L249.8 509.2L251.3 507.1L251.7 504.4L253.3 503.9L255.2 500.9L256.0 502.1L257.0 499.8L258.5 499.2L259.3 498.3L260.3 497.0L261.8 495.5L263.2 495.5L264.1 494.5L265.8 490.3L266.6 491.0L267.7 490.4L268.8 488.9L270.7 488.5L271.9 488.1L272.3 486.4L273.8 485.1L274.8 485.0L276.5 483.5L277.4 482.4L278.9 482.7L279.9 480.9L281.0 478.4L282.7 479.1L283.7 476.6L284.9 476.3L286.0 473.9L287.5 474.8L289.0 472.1L290.0 472.5L291.7 472.5L292.9 470.6L293.9 469.3L295.3 467.8L296.4 467.2L297.8 466.8L298.9 464.3L300.1 463.9L301.9 464.0L302.8 462.2L304.1 461.8L305.1 460.5L306.5 458.9L307.6 458.1L308.6 457.6L310.0 455.9L311.2 454.9L312.4 454.0L313.6 452.6L314.8 451.6L315.8 450.8L317.1 449.5L318.3 448.5L319.5 447.6L320.7 446.8L321.9 445.3L323.2 444.2L324.4 443.7L325.5 442.4L326.8 441.0L328.0 440.1L329.3 439.0L330.5 438.2L331.8 437.1L333.1 436.1L334.3 435.2L335.6 434.2L336.9 433.2L338.1 432.2L339.4 431.2" fill="none" stroke="#ff9900" stroke-width="4.2" stroke-linejoin="round"/>
<path d="M128.5 593.6L130.2 598.4L130.2 597.2L132.2 593.1L134.3 592.5L135.5 591.6L138.1 593.9L138.6 595.7L139.6 593.8L141.3 598.0L142.8 595.4L145.5 597.2L146.5 590.1L148.9 600.6L150.2 593.6L150.7 596.6L153.9 590.4L152.3 599.3L155.0 590.3L154.5 583.7L155.4 585.7L156.8 588.8L163.0 582.9L160.6 590.1L161.7 585.8L165.4 574.7L165.1 578.8L165.5 580.4L166.0 583.0L169.0 582.5L172.3 579.3L172.0 576.2L175.6 578.5L175.9 583.3L177.2 577.5L178.2 575.1L179.9 575.7L181.4 580.8L179.9 575.5L182.3 567.2L183.2 574.9L184.6 572.8L186.2 569.4L185.6 566.1L188.2 567.7L189.0 559.3L188.9 566.7L191.0 562.2L192.8 562.0L193.6 563.2L194.8 560.4L195.0 558.0L195.8 555.4L197.5 557.5L198.4 553.7L200.6 554.2L200.4 551.8L200.9 553.1L202.4 549.6L204.5 552.1L204.3 545.8L206.5 546.9L207.4 543.9L209.0 544.6L210.4 544.3L211.2 541.3L211.0 543.2L213.0 541.1L213.5 540.1L214.6 537.1L217.0 536.4L216.8 535.7L218.3 534.4L219.3 530.9L221.4 530.1L223.2 531.7L224.0 528.8L225.5 529.5L226.3 527.9L227.7 527.9L227.6 525.4L229.4 523.2L230.7 524.5L231.8 523.4L232.9 521.0L234.2 519.6L234.9 520.7L236.3 516.3L237.8 516.7L238.5 515.9L240.1 514.7L241.5 514.0L242.9 513.4L243.3 510.5L245.3 509.9L246.1 510.1L247.1 509.0L249.0 507.4L249.8 505.5L250.6 505.6L252.5 504.4L253.2 504.4L254.4 502.2L256.0 501.5L256.8 501.7L258.6 501.2L259.2 497.9L260.8 497.2L261.6 497.3L262.5 493.0L263.9 494.5L265.2 493.1L267.0 492.2L267.5 489.8L268.7 489.7L270.1 487.7L270.8 486.2L272.7 487.0L273.7 485.8L275.2 483.7L276.7 483.5L277.3 480.6L278.6 481.4L279.8 481.2L281.4 479.5L282.5 477.9L283.7 476.4L284.9 475.6L286.3 474.2L287.5 473.5L288.6 473.4L290.0 472.3L291.1 470.7L292.9 470.3L293.9 470.3L295.1 468.6L296.6 467.6L297.6 466.6L299.0 465.3L300.4 464.2L301.6 462.9L302.6 463.3L304.1 461.3L305.3 459.8L306.4 459.3L307.7 458.7L308.6 456.7L309.8 455.5L311.1 454.5L312.4 454.0L313.5 452.9L314.9 452.2L316.0 450.5L317.1 449.5L318.4 448.5L319.5 447.5L320.6 446.6L321.9 445.3L323.1 444.0L324.3 443.2L325.5 442.1L326.9 441.2L328.1 440.3L329.3 439.2L330.5 438.2L331.8 437.2L333.1 436.1L334.3 435.1L335.6 434.2L336.9 433.2L338.1 432.2L339.4 431.2" fill="none" stroke="#ff9900" stroke-width="4.2" stroke-linejoin="round"/>
<path d="M128.6 592.4L129.7 589.8L131.5 591.5L133.2 592.7L134.7 594.4L135.7 592.0L136.7 590.8L138.4 590.8L140.9 595.4L142.7 598.3L142.8 595.3L144.2 591.6L147.2 592.5L148.4 599.3L150.0 595.1L149.6 588.6L151.8 592.7L153.0 588.3L155.0 589.0L154.3 588.4L158.8 586.5L159.0 590.4L160.5 587.1L159.8 584.0L162.7 587.5L166.0 588.8L163.5 576.7L167.6 582.5L169.6 578.6L169.2 581.8L172.7 576.3L172.7 581.5L176.0 580.5L176.5 578.7L177.5 575.1L180.6 576.5L180.5 573.2L182.0 571.5L180.9 575.2L182.5 570.3L184.7 575.3L185.8 572.8L186.1 564.9L187.7 569.2L187.5 564.8L189.4 566.1L189.5 564.9L191.5 559.5L192.0 561.9L192.9 560.6L194.3 561.7L196.4 556.4L195.8 558.8L197.1 554.2L199.1 554.4L199.3 552.3L201.6 555.1L201.8 552.4L202.8 554.4L204.1 550.1L205.9 549.3L206.4 548.1L207.5 544.5L208.5 544.3L208.7 545.5L210.2 541.5L212.5 541.3L213.3 539.9L214.3 539.7L215.5 537.1L216.1 536.3L217.7 535.8L218.3 534.5L220.0 531.9L220.7 533.5L222.1 529.1L223.6 528.2L224.4 527.0L226.0 529.2L227.1 526.2L228.3 524.3L229.9 523.0L229.9 524.1L231.1 521.0L233.2 519.7L234.5 521.1L236.1 517.7L236.8 517.8L238.1 517.1L238.6 515.5L240.4 515.0L241.6 515.6L242.2 512.3L243.4 510.3L244.9 508.6L246.3 509.5L246.4 508.3L248.6 507.9L249.9 506.0L250.9 505.0L252.3 503.6L253.5 502.8L254.3 502.5L255.9 500.8L256.9 500.3L257.9 501.0L259.4 498.5L261.0 495.4L261.3 497.5L262.5 495.1L263.7 492.8L265.9 493.5L266.5 491.6L267.7 490.0L268.7 488.9L269.9 487.5L270.8 487.4L272.6 487.2L273.8 485.0L274.5 484.5L276.0 484.6L277.3 481.2L278.7 481.3L280.0 479.9L281.4 478.3L282.7 477.3L283.9 477.1L285.2 476.4L286.0 474.8L287.4 474.2L289.0 473.6L290.1 472.4L291.3 471.7L292.3 470.5L293.6 469.6L295.3 469.3L296.5 467.7L297.7 466.5L298.9 465.8L300.0 464.0L301.6 463.3L302.9 462.8L304.2 461.6L305.2 460.9L306.4 459.3L307.5 457.7L308.9 457.8L310.2 456.4L311.1 454.6L312.4 454.3L313.6 452.8L314.7 451.2L315.7 450.6L317.1 449.5L318.4 448.9L319.4 447.3L320.7 446.4L321.8 445.3L323.2 444.2L324.4 443.1L325.6 442.3L326.8 441.3L328.1 440.3L329.3 439.1L330.6 438.1L331.8 437.2L333.1 436.1L334.3 435.2L335.6 434.2L336.9 433.2L338.1 432.2L339.4 431.2L340.7 430.3L342.0 429.3L343.3 428.4L344.5 427.4L345.8 426.5L347.1 425.5L348.4 424.6L349.7 423.6L351.1 422.7L352.4 421.8L353.7 420.9L355.0 420.0L356.3 419.0L357.6 418.1L359.0 417.2L360.3 416.3L361.6 415.4L363.0 414.6L364.3 413.7L365.7 412.8L367.0 411.9L368.3 411.0L369.7 410.2L371.0 409.3L372.4 408.4L373.7 407.6L375.1 406.7L376.5 405.9L377.8 405.0L379.2 404.2L380.6 403.4L381.9 402.5L383.3 401.7L384.7 400.8L386.0 400.0L387.4 399.2L388.8 398.4L390.2 397.6L391.6 396.8L393.0 396.0L394.4 395.2L395.8 394.4L397.2 393.6L398.6 392.8L400.0 392.0L401.4 391.3L402.8 390.5L404.2 389.8L405.6 389.0L407.1 388.3L408.5 387.6L409.9 386.9L411.4 386.2L412.8 385.5L414.3 384.8L415.8 384.2L417.2 383.5L418.7 382.9L420.2 382.2L421.6 381.6L423.1 381.0L424.6 380.5L426.1 379.9L427.6 379.4L429.2 378.8L430.7 378.3L432.2 377.8L433.8 377.4L435.3 376.9L436.9 376.6L438.4 376.2L440.0 375.8L441.5 375.5L443.1 375.2L444.7 375.0L446.3 374.8L447.9 374.6L449.5 374.5L451.1 374.4L452.7 374.4L454.3 374.5L455.9 374.6L457.5 374.8L459.1 375.0L460.7 375.3L462.2 375.7L463.8 376.1L465.3 376.6L466.8 377.2L468.3 377.8L469.7 378.5L471.1 379.3L472.5 380.1L473.9 380.9L475.2 381.8L476.5 382.8L477.8 383.8L479.0 384.8L480.2 385.9L481.3 387.0L482.4 388.2L483.5 389.4L484.6 390.6L485.6 391.8L486.6 393.0L487.6 394.3L488.5 395.6L489.4 396.9L490.3 398.2L491.2 399.6L492.1 400.9L492.9 402.3L493.8 403.7L494.6 405.1L495.4 406.4L496.2 407.8L496.9 409.3L497.7 410.7L498.4 412.1L499.1 413.5L499.8 415.0L500.5 416.4L501.2 417.9L501.8 419.4L502.5 420.8L503.1 422.3L503.7 423.8L504.4 425.3L505.0 426.7L505.6 428.2L506.2 429.7L506.7 431.2L507.3 432.7L507.9 434.2L508.5 435.7L509.0 437.2L509.6 438.7L510.1 440.2L510.7 441.7L511.2 443.3L511.7 444.8L512.3 446.3L512.8 447.8L513.3 449.3L513.8 450.8L514.3 452.4L514.8 453.9L515.3 455.4L515.8 456.9L516.3 458.5L516.8 460.0L517.3 461.5L517.8 463.1L518.2 464.6L518.7 466.1L519.2 467.7L519.6 469.2L520.1 470.7L520.5 472.3L521.0 473.8L521.4 475.4L521.8 476.9L522.3 478.4L522.7 480.0L523.1 481.5L523.5 483.1L524.0 484.6L524.4 486.2L524.8 487.7L525.2 489.3L525.6 490.8L526.0 492.4L526.4 494.0L526.8 495.5L527.2 497.1L527.6 498.6L527.9 500.2L528.3 501.7L528.7 503.3L529.1 504.9L529.5 506.4L529.8 508.0L530.2 509.5L530.6 511.1L530.9 512.7L531.3 514.2L531.6 515.8L532.0 517.4L532.3 518.9L532.7 520.5L533.0 522.1L533.4 523.6L533.7 525.2L534.1 526.8L534.4 528.3L534.7 529.9L535.1 531.5L535.4 533.0L535.7 534.6L536.1 536.2L536.4 537.7L536.7 539.3L537.1 540.9L537.4 542.5L537.7 544.0L538.0 545.6L538.3 547.2L538.7 548.7L539.0 550.3L539.3 551.9L539.6 553.5L539.9 555.0L540.2 556.6L540.6 558.2L540.9 559.8L541.2 561.3L541.5 562.9L541.8 564.5L542.1 566.1L542.4 567.6L542.7 569.2L543.0 570.8L543.3 572.3L543.7 573.9L544.0 575.5L544.3 577.1L544.6 578.6L544.9 580.2L545.2 581.8L545.5 583.4L545.8 584.9L546.1 586.5L546.4 588.1L546.8 589.7L547.1 591.2" fill="none" stroke="#ff9900" stroke-width="4.2" stroke-linejoin="round"/>
<path d="M113.3 395.3L116.4 395.3L119.4 395.3L122.4 395.3L125.4 395.2L128.4 395.2L131.4 395.1L134.4 395.0L137.5 395.0L140.5 394.9L143.5 394.7L146.5 394.6L149.5 394.5L152.5 394.4L155.6 394.2L158.6 394.1L161.6 393.9L164.6 393.7L167.6 393.6L170.6 393.4L173.7 393.2L176.7 393.0L179.7 392.8L182.7 392.6L185.7 392.4L188.7 392.2L191.8 392.0L194.8 391.8L197.8 391.6L200.8 391.4L203.8 391.2L206.8 391.0L209.8 390.7L212.9 390.5L215.9 390.3L218.9 390.2L221.9 390.0L224.9 389.8L227.9 389.6L231.0 389.4L234.0 389.2L237.0 389.1L240.0 388.9L243.0 388.8L246.1 388.6L249.1 388.5L252.1 388.4L255.1 388.3L258.1 388.2L261.1 388.1L264.2 388.0L267.2 387.9L270.2 387.9L273.2 387.8L276.2 387.8L279.3 387.8L282.3 387.8L285.3 387.8L288.3 387.9L291.3 387.9L294.4 388.0L297.4 388.1L300.4 388.1L303.4 388.3L306.4 388.4L309.4 388.5L312.5 388.7L315.5 388.9L318.5 389.0L321.5 389.3L324.5 389.5L327.5 389.7L330.5 390.0L333.5 390.2L336.5 390.5L339.6 390.8L342.6 391.1L345.6 391.5L348.6 391.8L351.6 392.2L354.6 392.6L357.6 393.0L360.6 393.4L363.5 393.8L366.5 394.3L369.5 394.8L372.5 395.3L375.5 395.8L378.5 396.3L381.4 396.8L384.4 397.4L387.4 398.0L390.3 398.6L393.3 399.2L396.3 399.8L399.2 400.5L402.2 401.1L405.1 401.8L408.0 402.5L411.0 403.3L413.9 404.0L416.8 404.8L419.7 405.6L422.6 406.4L425.5 407.2L428.4 408.1L431.3 409.0L434.2 409.9L437.1 410.8L439.9 411.7L442.8 412.7L445.6 413.7L448.5 414.7L451.3 415.7L454.1 416.8L457.0 417.9L459.8 419.0L462.6 420.1L465.4 421.2L468.2 422.4L470.9 423.5L473.7 424.7L476.5 425.9L479.2 427.2L482.0 428.4L484.7 429.7L487.5 430.9L490.2 432.2L492.9 433.5L495.6 434.8L498.4 436.1L501.1 437.4L503.8 438.8L506.5 440.1L509.1 441.5L511.8 442.9L514.5 444.3L517.2 445.7L519.9 447.1L522.5 448.5L525.2 449.9L527.8 451.4L530.5 452.8L533.1 454.3L535.7 455.8L538.4 457.3L541.0 458.8L543.6 460.3L546.2 461.9L548.8 463.4L551.4 465.0L554.0 466.6L556.5 468.2L559.1 469.8L561.6 471.4L564.2 473.0L566.7 474.7L569.2 476.4L571.7 478.1L574.2 479.8L576.6 481.5L579.1 483.2L581.6 485.0L584.0 486.8L586.4 488.6L588.8 490.4L591.2 492.2L593.6 494.1L596.0 495.9L598.4 497.8L600.7 499.7L603.1 501.6L605.4 503.5L607.7 505.4L610.1 507.3L612.4 509.2L614.7 511.2L617.0 513.1L619.3 515.1L621.6 517.0L623.9 519.0L626.2 520.9L628.5 522.9L630.8 524.9L633.1 526.8L635.4 528.8L637.7 530.8L640.0 532.7L642.3 534.7L644.6 536.6L646.9 538.6L649.2 540.5L651.6 542.5L653.9 544.4L656.2 546.4L658.5 548.3L660.8 550.3L663.1 552.2L665.4 554.2L667.7 556.1L670.0 558.1L672.3 560.0L674.6 562.0L676.9 564.0L679.2 566.0L681.4 568.0L683.7 570.0L685.9 572.0L688.2 574.0L690.4 576.1L692.6 578.1L694.7 580.2L696.9 582.3L699.1 584.4L701.2 586.6L703.3 588.7L705.4 590.9" fill="none" stroke="#ff0000" stroke-width="3.4" stroke-linejoin="round" stroke-dasharray="12.8 12.2"/>
<path d="M249.5 591.7L251.0 585.9L251.8 589.0L254.7 592.1L255.3 584.1L256.2 587.8L257.7 584.4L259.6 588.1L259.9 583.0L262.4 581.8L262.2 585.7L263.6 584.0L265.2 579.7L266.1 575.5L268.7 575.3L269.6 578.8L271.3 577.9L273.3 573.2L273.2 577.7L275.6 575.4L276.3 572.5L278.4 572.4L279.9 572.1L280.5 569.8L282.4 571.3L283.1 568.8L285.5 568.0L285.6 569.1L287.5 567.4L287.9 563.0L289.6 564.8L291.7 562.0L293.1 563.4L294.4 563.0L296.9 558.9L297.2 562.2L297.6 562.8L299.6 559.5L301.3 556.0L301.9 556.8L303.0 556.7L305.6 556.2L306.4 555.4L306.8 552.5L309.0 552.0L310.6 553.1L312.0 555.8L313.3 550.7L314.7 549.4L315.6 549.5L317.1 550.4L318.8 547.0L319.9 542.2L321.8 544.4L322.3 543.3L324.1 541.9L325.6 540.6L327.0 540.4L328.3 544.6L329.4 541.1L330.7 539.6L331.7 536.6L333.5 537.0L335.2 537.2L337.0 535.7L337.4 534.8L338.6 536.4L341.4 535.2L341.4 533.3L343.9 529.7L345.0 531.0L346.4 528.7L347.3 528.4L348.9 528.2L350.3 528.0L351.2 527.9L353.4 523.1L353.6 525.9L355.5 523.6L356.7 523.4L358.4 521.6L360.1 523.5L360.9 521.0L362.7 521.1L363.4 518.5L365.8 519.6L366.6 517.9L368.4 516.0L369.5 515.8L370.8 514.6L372.3 513.6L373.6 514.9L375.2 513.0L376.9 511.5L377.3 509.6L378.7 511.2L380.7 509.4L381.4 508.3L383.6 507.0L384.9 508.2L386.3 507.1L387.7 505.0L388.7 504.0L390.2 503.3L391.4 502.7L393.2 502.0L394.9 500.1L395.8 499.8L397.0 499.5L398.5 499.5L399.3 498.3L401.2 497.2L402.8 495.7L404.0 495.7L405.4 495.2L406.9 494.4L408.3 493.8L409.6 492.0L410.9 491.1L412.5 491.2L413.5 489.5L415.0 489.3L416.5 488.2L417.9 486.6L419.4 486.6L420.4 485.7L421.9 484.8L423.4 484.0L424.6 482.8L426.3 482.4L427.7 481.6L429.1 481.5L430.3 480.2L431.8 479.6L433.2 479.4L434.5 477.3L435.9 477.6L437.5 476.5L438.8 475.6L440.2 474.6L441.7 474.5L443.2 473.5L444.5 472.6L445.9 471.7L447.4 471.5L448.7 470.8L450.2 469.6L451.6 469.0L453.1 468.4L454.5 467.7L455.9 466.8L457.3 466.4L458.8 465.5L460.3 464.7L461.7 464.0L463.2 463.3L464.6 462.7L466.1 462.0L467.5 461.3L469.0 460.6" fill="none" stroke="#800080" stroke-width="4.2" stroke-linejoin="round"/>
<path d="M249.1 591.9L250.6 586.5L252.0 589.4L254.0 586.4L254.7 585.3L255.8 588.1L257.0 584.0L258.3 586.4L260.1 582.8L261.3 588.3L262.6 585.4L264.5 583.7L265.6 582.2L266.5 579.0L267.5 579.9L270.9 575.5L271.2 576.9L272.0 571.8L274.6 576.7L274.1 573.4L276.3 572.3L278.5 571.5L279.4 574.6L280.4 573.8L282.4 570.8L282.8 572.7L283.7 570.7L286.8 566.9L287.1 567.3L288.6 567.3L289.9 563.0L290.4 563.8L292.0 564.1L294.5 560.2L295.1 561.1L296.7 560.7L298.5 559.8L298.9 559.9L299.9 558.9L302.6 558.8L303.4 556.6L303.7 554.3L306.0 553.4L308.1 552.1L309.2 554.1L310.9 549.4L312.6 551.4L313.5 550.9L314.1 550.4L315.5 550.0L317.6 548.3L318.7 545.8L320.0 544.0L321.2 544.1L322.4 544.5L324.0 545.2L324.9 544.3L327.1 543.1L329.4 543.1L329.5 540.0L330.9 536.5L332.7 536.8L333.5 538.3L334.7 536.2L336.4 535.3L338.0 533.2L339.2 533.2L339.8 533.1L341.4 531.7L343.4 531.9L344.4 531.7L346.8 530.5L347.9 530.1L348.2 528.2L350.7 529.6L351.5 527.3L353.1 525.5L354.8 525.1L355.2 524.0L356.8 523.6L358.0 523.3L359.6 523.8L361.1 520.7L362.8 519.7L363.9 521.3L365.4 518.3L366.7 516.8L368.6 518.5L369.5 513.7L371.1 515.5L372.1 515.4L373.7 514.5L375.0 514.1L376.4 512.6L377.7 511.4L379.2 508.8L379.9 510.9L381.7 509.2L383.6 508.5L384.5 506.7L385.9 505.1L387.3 505.9L389.1 503.7L390.2 503.3L391.5 502.1L392.8 500.1L394.3 501.0L395.4 500.9L396.7 498.9L398.3 498.1L399.7 499.5L401.1 497.4L402.7 496.2L403.6 496.1L405.2 495.4L406.8 493.9L407.8 493.6L409.4 493.4L410.9 491.9L412.1 490.3L413.5 490.3L415.2 489.8L416.4 488.4L418.0 487.8L419.0 486.7L420.5 486.2L421.8 484.3L423.3 484.0L424.6 482.5L426.2 482.8L427.8 481.1L429.0 481.0L430.2 479.7L431.8 480.0L433.2 478.7L434.4 477.7L436.1 477.0L437.2 475.9L438.9 475.4L440.3 475.1L441.7 474.5L443.1 473.6L444.6 472.7L446.1 471.9L447.4 471.1L448.8 470.6L450.3 469.7L451.6 468.8L453.1 468.3L454.6 467.5L455.9 467.0L457.4 466.3L458.8 465.3L460.3 464.7L461.7 464.0L463.1 463.3L464.6 462.6L466.1 461.9L467.5 461.3L469.0 460.6" fill="none" stroke="#800080" stroke-width="4.2" stroke-linejoin="round"/>
<path d="M248.8 590.8L251.6 590.6L252.9 588.5L254.3 586.3L254.6 586.4L256.6 584.4L257.6 585.8L258.8 587.6L260.1 582.9L260.9 581.7L262.2 583.2L264.9 582.0L265.6 580.6L267.2 577.7L269.1 578.6L268.8 579.2L270.7 574.3L272.6 575.2L274.1 571.5L275.0 571.8L277.1 569.9L278.0 572.1L278.6 569.3L280.1 571.4L282.4 570.3L283.6 568.8L283.6 563.6L286.7 566.4L287.7 566.4L289.4 565.9L289.9 562.1L291.3 563.1L292.2 561.3L295.5 560.8L295.4 563.2L297.7 559.1L297.9 559.6L299.6 560.3L300.1 556.9L302.1 556.9L304.1 556.4L304.4 555.4L306.9 552.5L307.9 553.7L308.6 554.9L310.2 549.5L311.6 552.4L313.1 550.4L314.3 548.4L315.5 551.6L317.1 548.8L318.1 545.0L319.4 546.1L321.3 546.0L323.1 544.0L323.4 544.4L325.4 542.5L326.5 542.7L327.8 543.0L329.9 539.2L330.7 539.5L332.9 537.8L333.3 537.8L335.2 535.2L336.3 535.2L337.5 534.8L339.4 535.4L340.5 534.9L342.1 530.9L343.3 530.8L344.2 531.8L346.0 527.7L347.4 528.7L349.1 528.3L349.8 529.1L351.5 527.6L352.3 525.6L354.5 524.7L355.3 524.1L356.4 525.2L358.4 522.2L360.2 521.5L360.7 521.4L362.2 520.1L363.7 519.2L365.0 517.4L366.8 517.7L367.8 516.5L369.2 517.3L371.0 515.9L372.0 514.4L373.7 514.3L374.7 512.5L376.0 513.0L377.2 511.2L379.6 510.9L380.4 508.4L381.9 509.0L383.2 506.4L384.6 505.3L386.0 506.0L387.8 504.7L388.5 504.7L389.8 505.5L391.3 502.3L392.6 501.6L394.4 501.4L395.8 500.8L396.8 499.5L398.1 498.7L399.7 498.5L401.4 497.5L402.0 495.7L404.0 495.5L405.1 494.8L406.9 493.3L407.9 493.3L409.4 491.8L410.6 492.0L412.1 490.8L413.9 489.9L415.1 488.7L416.3 488.2L417.7 486.4L418.9 486.1L420.5 486.0L422.0 484.1L423.4 484.7L424.8 482.7L426.0 483.0L427.6 481.6L429.0 481.4L430.5 480.4L432.0 479.0L433.2 479.3L434.5 478.5L436.0 477.2L437.4 476.4L438.8 475.7L440.2 474.7L441.6 474.5L443.1 473.3L444.5 472.7L445.9 471.8L447.3 471.1L448.7 470.3L450.2 470.0L451.6 469.0L453.1 468.5L454.5 467.6L456.0 466.8L457.3 466.1L458.8 465.4L460.2 464.8L461.7 464.0L463.2 463.3L464.6 462.6L466.1 462.0L467.5 461.3L469.0 460.6L470.4 459.9L471.9 459.2L473.3 458.6L474.8 457.9L476.2 457.2L477.7 456.5L479.2 455.9L480.6 455.2L482.1 454.6L483.5 453.9L485.0 453.2L486.5 452.6L487.9 451.9L489.4 451.3L490.9 450.6L492.3 450.0L493.8 449.3L495.3 448.7L496.8 448.1L498.2 447.4L499.7 446.8L501.2 446.2L502.7 445.5L504.1 444.9L505.6 444.3L507.1 443.6L508.6 443.0L510.0 442.4L511.5 441.8L513.0 441.1L514.5 440.5L516.0 439.9L517.5 439.3L518.9 438.6L520.4 438.0L521.9 437.4L523.4 436.8L524.9 436.2L526.4 435.6L527.8 435.0L529.3 434.4L530.8 433.8L532.3 433.2L533.8 432.6L535.3 432.0L536.8 431.4L538.3 430.9L539.8 430.3L541.3 429.7L542.8 429.2L544.3 428.7L545.8 428.1L547.4 427.6L548.9 427.1L550.4 426.6L551.9 426.1L553.5 425.6L555.0 425.1L556.5 424.6L558.1 424.2L559.6 423.7L561.2 423.3L562.7 422.9L564.3 422.5L565.8 422.1L567.4 421.7L568.9 421.3L570.5 421.0L572.1 420.7L573.7 420.3L575.2 420.0L576.8 419.7L578.4 419.5L580.0 419.2L581.6 419.0L583.2 418.7L584.7 418.6L586.3 418.4L587.9 418.2L589.5 418.0L591.1 417.9L592.7 417.8L594.3 417.7L595.9 417.7L597.5 417.6L599.2 417.6L600.8 417.6L602.4 417.6L604.0 417.7L605.6 417.8L607.2 417.9L608.8 418.0L610.4 418.2L612.0 418.4L613.5 418.7L615.1 419.0L616.7 419.3L618.3 419.7L619.8 420.0L621.4 420.5L622.9 421.0L624.4 421.6L625.9 422.1L627.3 422.8L628.8 423.5L630.2 424.2L631.6 425.0L633.0 425.8L634.3 426.7L635.7 427.6L637.0 428.6L638.2 429.6L639.5 430.6L640.7 431.6L641.9 432.7L643.1 433.8L644.2 434.9L645.3 436.1L646.4 437.2L647.5 438.4L648.6 439.6L649.6 440.8L650.7 442.1L651.7 443.3L652.7 444.6L653.7 445.8L654.6 447.1L655.6 448.4L656.5 449.7L657.4 451.0L658.4 452.3L659.3 453.7L660.2 455.0L661.0 456.3L661.9 457.7L662.8 459.1L663.6 460.4L664.4 461.8L665.3 463.2L666.1 464.6L666.9 466.0L667.6 467.4L668.4 468.8L669.2 470.2L669.9 471.6L670.7 473.0L671.4 474.5L672.1 475.9L672.8 477.3L673.5 478.8L674.2 480.2L674.8 481.7L675.5 483.2L676.1 484.6L676.8 486.1L677.4 487.6L678.0 489.1L678.6 490.6L679.3 492.0L679.8 493.5L680.4 495.0L681.0 496.5L681.6 498.0L682.1 499.5L682.7 501.0L683.2 502.6L683.7 504.1L684.3 505.6L684.8 507.1L685.3 508.6L685.8 510.2L686.3 511.7L686.8 513.2L687.3 514.7L687.7 516.3L688.2 517.8L688.7 519.4L689.1 520.9L689.6 522.4L690.0 524.0L690.5 525.5L690.9 527.1L691.3 528.6L691.8 530.2L692.2 531.7L692.6 533.3L693.0 534.8L693.4 536.4L693.8 537.9L694.2 539.5L694.6 541.0L695.0 542.6L695.4 544.1L695.8 545.7L696.2 547.3L696.6 548.8L696.9 550.4L697.3 551.9L697.7 553.5L698.1 555.1L698.4 556.6L698.8 558.2L699.2 559.8L699.5 561.3L699.9 562.9L700.3 564.4L700.6 566.0L701.0 567.6L701.3 569.1L701.7 570.7L702.1 572.3L702.4 573.8L702.8 575.4L703.2 577.0L703.5 578.5L703.9 580.1L704.3 581.6L704.6 583.2L705.0 584.8L705.4 586.3L705.7 587.9L706.1 589.5L706.5 591.0" fill="none" stroke="#800080" stroke-width="4.2" stroke-linejoin="round"/>
<path d="M113.5 440.2L116.5 440.2L119.5 440.2L122.5 440.2L125.5 440.2L128.5 440.2L131.5 440.2L134.5 440.2L137.5 440.2L140.5 440.2L143.5 440.1L146.5 440.1L149.5 440.0L152.6 440.0L155.6 439.9L158.6 439.9L161.6 439.8L164.6 439.7L167.6 439.6L170.6 439.5L173.7 439.5L176.7 439.4L179.7 439.3L182.7 439.2L185.7 439.1L188.7 439.0L191.8 438.8L194.8 438.7L197.8 438.6L200.8 438.5L203.8 438.4L206.8 438.2L209.9 438.1L212.9 438.0L215.9 437.8L218.9 437.7L221.9 437.6L225.0 437.4L228.0 437.3L231.0 437.1L234.0 437.0L237.1 436.9L240.1 436.7L243.1 436.6L246.1 436.4L249.1 436.3L252.2 436.1L255.2 436.0L258.2 435.8L261.2 435.7L264.3 435.6L267.3 435.4L270.3 435.3L273.3 435.1L276.4 435.0L279.4 434.9L282.4 434.7L285.4 434.6L288.5 434.5L291.5 434.3L294.5 434.2L297.5 434.1L300.5 434.0L303.6 433.9L306.6 433.8L309.6 433.6L312.6 433.5L315.7 433.4L318.7 433.3L321.7 433.2L324.7 433.2L327.8 433.1L330.8 433.0L333.8 432.9L336.8 432.8L339.8 432.8L342.9 432.7L345.9 432.7L348.9 432.6L351.9 432.6L354.9 432.5L358.0 432.5L361.0 432.5L364.0 432.5L367.0 432.5L370.0 432.5L373.1 432.5L376.1 432.5L379.1 432.5L382.1 432.5L385.1 432.6L388.1 432.6L391.2 432.7L394.2 432.7L397.2 432.8L400.2 432.9L403.2 432.9L406.2 433.0L409.2 433.1L412.3 433.3L415.3 433.4L418.3 433.5L421.3 433.7L424.3 433.8L427.3 434.0L430.3 434.1L433.3 434.3L436.3 434.5L439.3 434.7L442.3 435.0L445.4 435.2L448.4 435.4L451.4 435.7L454.4 435.9L457.4 436.2L460.4 436.5L463.4 436.8L466.4 437.1L469.4 437.5L472.4 437.8L475.4 438.1L478.4 438.5L481.4 438.9L484.4 439.3L487.4 439.7L490.4 440.1L493.3 440.6L496.3 441.0L499.3 441.5L502.3 441.9L505.3 442.4L508.3 442.9L511.3 443.4L514.3 443.9L517.3 444.5L520.2 445.0L523.2 445.5L526.2 446.1L529.2 446.6L532.2 447.2L535.1 447.7L538.1 448.3L541.1 448.9L544.1 449.5L547.0 450.0L550.0 450.6L553.0 451.2L555.9 451.8L558.9 452.4L561.9 453.0L564.8 453.7L567.8 454.3L570.7 454.9L573.7 455.6L576.6 456.2L579.6 456.9L582.5 457.6L585.5 458.3L588.4 459.0L591.3 459.7L594.3 460.4L597.2 461.1L600.1 461.9L603.0 462.6L605.9 463.4L608.9 464.1L611.8 464.9L614.7 465.7L617.6 466.5L620.5 467.3L623.4 468.2L626.3 469.0L629.2 469.8L632.1 470.7L635.0 471.6L637.9 472.4L640.7 473.3L643.6 474.2L646.5 475.1L649.4 476.0L652.2 477.0L655.1 477.9L658.0 478.9L660.8 479.8L663.7 480.8L666.5 481.8L669.4 482.8L672.2 483.8L675.1 484.8L677.9 485.8L680.8 486.8L683.6 487.9L686.4 488.9L689.2 490.0L692.1 491.1L694.9 492.1L697.7 493.2L700.5 494.3L703.3 495.4L706.1 496.6L708.9 497.7L711.7 498.8L714.5 500.0L717.3 501.1L720.1 502.3L722.9 503.4L725.7 504.6L728.5 505.8L731.3 507.0L734.0 508.2L736.8 509.4L739.6 510.6L742.3 511.8L745.1 513.1L747.9 514.3L750.6 515.5L753.4 516.8L756.1 518.0L758.9 519.3L761.6 520.6L764.4 521.8L767.1 523.1L769.8 524.4L772.6 525.7L775.3 527.0L778.0 528.3L780.8 529.6L783.5 530.9L786.2 532.2L788.9 533.6L791.6 534.9L794.3 536.2L797.0 537.6L799.8 538.9L802.5 540.2L805.2 541.6L807.8 542.9L810.5 544.3L813.2 545.7L815.9 547.0L818.6 548.4L821.3 549.8L824.0 551.1L826.6 552.5L829.3 553.9L832.0 555.3L834.7 556.7L837.3 558.1L840.0 559.5" fill="none" stroke="#ff0000" stroke-width="3.4" stroke-linejoin="round" stroke-dasharray="12.8 12.2"/>
</g>
<text x="112.3" y="632.9" text-anchor="middle" font-size="31.0">0</text>
<text x="293.9" y="632.9" text-anchor="middle" font-size="31.0">3</text>
<text x="475.5" y="632.9" text-anchor="middle" font-size="31.0">6</text>
<text x="657.1" y="632.9" text-anchor="middle" font-size="31.0">9</text>
<text x="838.7" y="632.9" text-anchor="middle" font-size="31.0">12</text>
<text x="88.5" y="33.7" text-anchor="end" font-size="31.0">10<tspan x="89.7" dy="-15.5" text-anchor="start" font-size="25.3">2</tspan></text>
<text x="88.5" y="225.3" text-anchor="end" font-size="31.0">10<tspan x="89.7" dy="-15.5" text-anchor="start" font-size="25.3">0</tspan></text>
<text x="78.2" y="416.9" text-anchor="end" font-size="31.0">10<tspan x="79.4" dy="-15.5" text-anchor="start" font-size="25.3">-2</tspan></text>
<text x="78.2" y="608.5" text-anchor="end" font-size="31.0">10<tspan x="79.4" dy="-15.5" text-anchor="start" font-size="25.3">-4</tspan></text>
<text x="726.7" y="79.7" font-size="38.6" fill="#000" stroke="#000">(a)</text>
<path d="M979.1 592h5.1M1700 592h-5.1M979.1 564.72h4.8M1700 564.72h-4.8M979.1 548.76h4.8M1700 548.76h-4.8M979.1 537.44h4.8M1700 537.44h-4.8M979.1 528.66h4.8M1700 528.66h-4.8M979.1 521.48h4.8M1700 521.48h-4.8M979.1 515.42h4.8M1700 515.42h-4.8M979.1 510.16h4.8M1700 510.16h-4.8M979.1 505.53h4.8M1700 505.53h-4.8M979.1 474.1h4.8M1700 474.1h-4.8M979.1 458.14h4.8M1700 458.14h-4.8M979.1 446.82h4.8M1700 446.82h-4.8M979.1 438.04h4.8M1700 438.04h-4.8M979.1 430.86h4.8M1700 430.86h-4.8M979.1 424.8h4.8M1700 424.8h-4.8M979.1 419.54h4.8M1700 419.54h-4.8M979.1 414.91h4.8M1700 414.91h-4.8M979.1 410.76h5.1M1700 410.76h-5.1M979.1 383.48h4.8M1700 383.48h-4.8M979.1 367.52h4.8M1700 367.52h-4.8M979.1 356.2h4.8M1700 356.2h-4.8M979.1 347.42h4.8M1700 347.42h-4.8M979.1 340.24h4.8M1700 340.24h-4.8M979.1 334.18h4.8M1700 334.18h-4.8M979.1 328.92h4.8M1700 328.92h-4.8M979.1 324.29h4.8M1700 324.29h-4.8M979.1 292.86h4.8M1700 292.86h-4.8M979.1 276.9h4.8M1700 276.9h-4.8M979.1 265.58h4.8M1700 265.58h-4.8M979.1 256.8h4.8M1700 256.8h-4.8M979.1 249.62h4.8M1700 249.62h-4.8M979.1 243.56h4.8M1700 243.56h-4.8M979.1 238.3h4.8M1700 238.3h-4.8M979.1 233.67h4.8M1700 233.67h-4.8M979.1 229.52h5.1M1700 229.52h-5.1M979.1 202.24h4.8M1700 202.24h-4.8M979.1 186.28h4.8M1700 186.28h-4.8M979.1 174.96h4.8M1700 174.96h-4.8M979.1 166.18h4.8M1700 166.18h-4.8M979.1 159h4.8M1700 159h-4.8M979.1 152.94h4.8M1700 152.94h-4.8M979.1 147.68h4.8M1700 147.68h-4.8M979.1 143.05h4.8M1700 143.05h-4.8M979.1 111.62h4.8M1700 111.62h-4.8M979.1 95.66h4.8M1700 95.66h-4.8M979.1 84.34h4.8M1700 84.34h-4.8M979.1 75.56h4.8M1700 75.56h-4.8M979.1 68.38h4.8M1700 68.38h-4.8M979.1 62.32h4.8M1700 62.32h-4.8M979.1 57.06h4.8M1700 57.06h-4.8M979.1 52.43h4.8M1700 52.43h-4.8M979.1 48.28h5.1M1700 48.28h-5.1M979.1 21h4.8M1700 21h-4.8" stroke="#262626" stroke-width="2.2" fill="none"/>
<path d="M979.1 501.38h8.2M1700 501.38h-8.2M979.1 320.14h8.2M1700 320.14h-8.2M979.1 138.9h8.2M1700 138.9h-8.2M1159.33 592v-8M1159.33 21v8M1339.55 592v-8M1339.55 21v8M1519.78 592v-8M1519.78 21v8" stroke="#262626" stroke-width="2.2" fill="none"/>
<rect x="979.1" y="21" width="720.9" height="571" fill="none" stroke="#262626" stroke-width="2.2"/>
<g clip-path="url(#cb)">
<rect x="1023" y="532.5" width="5.5" height="60.5" fill="#008000" stroke="none"/>
<rect x="1136" y="532.5" width="5.5" height="60.5" fill="#00ffff" stroke="none"/>
<rect x="1275.5" y="532.5" width="5.5" height="60.5" fill="#ff9900" stroke="none"/>
<rect x="1406.25" y="532.5" width="5.5" height="60.5" fill="#800080" stroke="none"/>
<rect x="1066.46" y="548.75" width="5.5" height="44.25" fill="#000000" stroke="none"/>
<rect x="1156.58" y="548.75" width="5.5" height="44.25" fill="#000000" stroke="none"/>
<rect x="1291.74" y="548.75" width="5.5" height="44.25" fill="#000000" stroke="none"/>
<rect x="1426.91" y="548.75" width="5.5" height="44.25" fill="#000000" stroke="none"/>
<path d="M980.9 60.2L982.0 60.4L985.1 61.0L988.2 61.7L991.2 62.5L994.2 63.4L997.1 64.4L999.9 65.5L1002.7 66.7L1005.4 68.0L1008.1 69.3L1010.7 70.8L1013.3 72.3L1015.8 73.9L1018.3 75.6L1020.7 77.4L1023.1 79.2L1025.4 81.1L1027.7 83.0L1029.9 85.0L1032.1 87.0L1034.3 89.1L1036.4 91.2L1038.5 93.4L1040.5 95.6L1042.5 97.9L1044.4 100.2L1046.4 102.5L1048.3 104.8L1050.1 107.2L1052.0 109.6L1053.8 112.0L1055.5 114.4L1057.3 116.9L1059.0 119.4L1060.7 121.9L1062.3 124.4L1064.0 127.0L1065.6 129.6L1067.2 132.1L1068.7 134.7L1070.3 137.4L1071.8 140.0L1073.3 142.6L1074.8 145.3L1076.3 148.0L1077.7 150.6L1079.2 153.3L1080.6 156.0L1082.0 158.7L1083.4 161.4L1084.8 164.1L1086.1 166.8L1087.5 169.6L1088.8 172.3L1090.2 175.0L1091.5 177.7L1092.8 180.5L1094.1 183.2L1095.4 185.9L1096.7 188.7L1098.0 191.4L1099.2 194.2L1100.5 196.9L1101.7 199.7L1103.0 202.4L1104.2 205.2L1105.4 208.0L1106.6 210.7L1107.8 213.5L1109.0 216.3L1110.1 219.1L1111.3 221.8L1112.5 224.6L1113.6 227.4L1114.8 230.2L1115.9 233.0L1117.0 235.8L1118.1 238.6L1119.2 241.4L1120.3 244.2L1121.4 247.0L1122.5 249.8L1123.6 252.6L1124.7 255.5L1125.7 258.3L1126.8 261.1L1127.8 263.9L1128.9 266.8L1129.9 269.6L1130.9 272.4L1132.0 275.3L1133.0 278.1L1134.0 280.9L1135.0 283.8L1136.0 286.6L1137.0 289.5L1138.0 292.3L1138.9 295.2L1139.9 298.0L1140.9 300.9L1141.9 303.7L1142.8 306.6L1143.8 309.5L1144.7 312.3L1145.7 315.2L1146.6 318.1L1147.6 320.9L1148.5 323.8L1149.4 326.7L1150.4 329.6L1151.3 332.5L1152.2 335.3L1153.1 338.2L1154.0 341.1L1154.9 344.0L1155.8 346.9L1156.7 349.8L1157.6 352.7L1158.5 355.6L1159.4 358.4L1160.2 361.3L1161.1 364.2L1162.0 367.1L1162.8 370.0L1163.7 372.9L1164.6 375.8L1165.4 378.7L1166.3 381.7L1167.1 384.6L1167.9 387.5L1168.8 390.4L1169.6 393.3L1170.4 396.2L1171.2 399.1L1172.1 402.0L1172.9 404.9L1173.7 407.8L1174.5 410.8L1175.3 413.7L1176.1 416.6L1176.9 419.5L1177.6 422.4L1178.4 425.4L1179.2 428.3L1180.0 431.2L1180.8 434.1L1181.5 437.0L1182.3 440.0L1183.0 442.9L1183.8 445.8L1184.6 448.7L1185.3 451.7L1186.1 454.6L1186.8 457.5L1187.5 460.4L1188.3 463.4L1189.0 466.3L1189.8 469.2L1190.5 472.1L1191.2 475.1L1192.0 478.0L1192.7 480.9L1193.5 483.8L1194.2 486.7L1195.0 489.7L1195.7 492.6L1196.5 495.5L1197.3 498.4L1198.0 501.4L1198.8 504.3L1199.6 507.2L1200.3 510.1L1201.1 513.1L1201.9 516.0L1202.6 518.9L1203.4 521.8L1204.2 524.7L1204.9 527.7L1205.7 530.6L1206.4 533.5L1207.2 536.4L1208.0 539.4L1208.7 542.3L1209.4 545.2L1210.2 548.1L1210.9 551.1L1211.6 554.0L1212.3 557.0L1213.0 559.9L1213.7 562.8L1214.4 565.8L1215.0 568.7L1215.7 571.7L1216.3 574.6L1216.9 577.6L1217.5 580.5L1218.1 583.5L1218.7 586.5L1219.3 589.4L1219.8 592.4" fill="none" stroke="#000000" stroke-width="4.2" stroke-linejoin="round"/>
<path d="M980.9 58.1L983.1 58.2L987.1 58.6L991.0 59.4L995.0 60.5L999.0 61.8L1003.0 63.5L1006.9 65.5L1010.9 67.8L1014.9 70.4L1018.9 73.3L1022.8 76.6L1026.8 80.1L1030.8 83.9L1034.8 88.1L1038.7 92.5L1042.7 97.3L1046.7 102.4L1050.7 107.7L1054.6 113.4L1058.6 119.4L1062.6 125.7L1066.6 132.3L1070.5 139.2L1074.5 146.4L1078.5 153.9L1082.5 161.8L1086.4 169.9L1090.4 178.3L1094.4 187.1L1098.4 196.1L1102.3 205.5L1106.3 215.2L1110.3 225.2L1114.3 235.4L1118.2 246.0L1122.2 256.9L1126.2 268.1L1130.2 279.6L1134.1 291.5L1138.1 303.6L1142.1 316.0L1146.1 328.8L1150.0 341.8L1154.0 355.2L1158.0 368.8L1162.0 382.8L1165.9 397.1L1169.9 411.6L1173.9 426.5L1177.9 441.7L1181.8 457.2L1185.8 473.0L1189.8 489.2L1193.8 505.6L1197.7 522.3L1201.7 539.3L1205.7 556.7L1209.7 574.3L1213.6 592.3" fill="none" stroke="#ff0000" stroke-width="3.4" stroke-linejoin="round" stroke-dasharray="12.8 12.2"/>
<path d="M980.9 76.1L982.2 76.2L985.2 76.7L988.2 77.2L991.2 77.9L994.1 78.7L996.9 79.5L999.8 80.5L1002.6 81.5L1005.4 82.6L1008.1 83.8L1010.8 85.1L1013.5 86.5L1016.1 87.9L1018.7 89.4L1021.3 91.0L1023.8 92.6L1026.3 94.3L1028.8 96.1L1031.2 97.9L1033.6 99.7L1036.0 101.6L1038.4 103.5L1040.7 105.5L1043.0 107.5L1045.3 109.5L1047.5 111.6L1049.7 113.6L1051.9 115.7L1054.1 117.9L1056.2 120.0L1058.3 122.2L1060.4 124.4L1062.4 126.7L1064.4 128.9L1066.4 131.2L1068.3 133.6L1070.2 135.9L1072.1 138.3L1073.9 140.6L1075.7 143.1L1077.5 145.5L1079.2 147.9L1080.9 150.4L1082.6 152.9L1084.3 155.4L1085.9 157.9L1087.5 160.5L1089.1 163.0L1090.7 165.6L1092.3 168.2L1093.8 170.7L1095.4 173.3L1096.9 175.9L1098.4 178.5L1099.9 181.2L1101.4 183.8L1102.9 186.4L1104.3 189.0L1105.8 191.7L1107.2 194.3L1108.6 197.0L1110.1 199.7L1111.5 202.3L1112.8 205.0L1114.2 207.7L1115.6 210.4L1116.9 213.1L1118.3 215.8L1119.6 218.5L1120.9 221.2L1122.2 224.0L1123.5 226.7L1124.8 229.4L1126.0 232.2L1127.3 234.9L1128.5 237.7L1129.7 240.4L1131.0 243.2L1132.2 246.0L1133.4 248.7L1134.5 251.5L1135.7 254.3L1136.9 257.1L1138.0 259.9L1139.2 262.7L1140.3 265.5L1141.4 268.3L1142.5 271.1L1143.6 273.9L1144.7 276.8L1145.7 279.6L1146.8 282.4L1147.8 285.2L1148.9 288.1L1149.9 290.9L1150.9 293.8L1151.9 296.6L1152.9 299.4L1153.9 302.3L1154.9 305.1L1155.9 308.0L1156.8 310.9L1157.8 313.7L1158.7 316.6L1159.6 319.4L1160.6 322.3L1161.5 325.2L1162.4 328.0L1163.3 330.9L1164.3 333.8L1165.2 336.6L1166.1 339.5L1167.1 342.3L1168.0 345.2L1168.9 348.1L1169.9 350.9L1170.8 353.8L1171.8 356.6L1172.7 359.5L1173.7 362.4L1174.6 365.2L1175.6 368.1L1176.5 370.9L1177.5 373.8L1178.4 376.7L1179.3 379.5L1180.3 382.4L1181.2 385.3L1182.1 388.1L1183.0 391.0L1184.0 393.9L1184.9 396.8L1185.8 399.6L1186.7 402.5L1187.6 405.4L1188.5 408.3L1189.3 411.2L1190.2 414.1L1191.1 416.9L1191.9 419.8L1192.8 422.7L1193.6 425.6L1194.5 428.5L1195.3 431.4L1196.1 434.3L1197.0 437.2L1197.8 440.1L1198.6 443.0L1199.4 445.9L1200.2 448.9L1200.9 451.8L1201.7 454.7L1202.5 457.6L1203.2 460.5L1204.0 463.5L1204.7 466.4L1205.4 469.3L1206.2 472.2L1206.9 475.1L1207.6 478.1L1208.4 481.0L1209.1 483.9L1209.8 486.9L1210.5 489.8L1211.2 492.7L1212.0 495.6L1212.7 498.6L1213.4 501.5L1214.1 504.4L1214.9 507.4L1215.6 510.3L1216.4 513.2L1217.1 516.1L1217.9 519.0L1218.6 522.0L1219.4 524.9L1220.2 527.8L1221.0 530.7L1221.7 533.6L1222.5 536.5L1223.3 539.5L1224.1 542.4L1224.9 545.3L1225.6 548.2L1226.4 551.1L1227.2 554.0L1227.9 557.0L1228.6 559.9L1229.4 562.8L1230.1 565.7L1230.8 568.7L1231.5 571.6L1232.2 574.6L1232.8 577.5L1233.5 580.4L1234.1 583.4L1234.7 586.4L1235.2 589.3L1235.8 592.3" fill="none" stroke="#0000ff" stroke-width="4.2" stroke-linejoin="round"/>
<path d="M980.9 76.1L982.2 76.2L985.2 76.7L988.2 77.2L991.2 77.9L994.1 78.7L996.9 79.5L999.8 80.5L1002.6 81.5L1005.4 82.6L1008.1 83.8L1010.8 85.1L1013.5 86.5L1016.1 87.9L1018.7 89.4L1021.3 91.0L1023.8 92.6L1026.3 94.3L1028.8 96.1L1031.2 97.9L1033.6 99.7L1036.0 101.6L1038.4 103.5L1040.7 105.5L1043.0 107.5L1045.3 109.5L1047.5 111.6L1049.7 113.6L1051.9 115.7L1054.1 117.9L1056.2 120.0L1058.3 122.2L1060.4 124.4L1062.4 126.7L1064.4 128.9L1066.4 131.2L1068.3 133.6L1070.2 135.9L1072.1 138.3L1073.9 140.6L1075.7 143.1L1077.5 145.5L1079.2 147.9L1080.9 150.4L1082.6 152.9L1084.3 155.4L1085.9 157.9L1087.5 160.5L1089.1 163.0L1090.7 165.6L1092.3 168.2L1093.8 170.7L1095.4 173.3L1096.9 175.9L1098.4 178.5L1099.9 181.2L1101.4 183.8L1102.9 186.4L1104.3 189.0L1105.8 191.7L1107.2 194.3L1108.6 197.0L1110.1 199.7L1111.5 202.3L1112.8 205.0L1114.2 207.7L1115.6 210.4L1116.9 213.1L1118.3 215.8L1119.6 218.5L1120.9 221.2L1122.2 224.0L1123.5 226.7L1124.8 229.4L1126.0 232.2L1127.3 234.9L1128.5 237.7L1129.7 240.4L1131.0 243.2L1132.2 246.0L1133.4 248.7L1134.5 251.5L1135.7 254.3L1136.9 257.1L1138.0 259.9L1139.2 262.7L1140.3 265.5L1141.4 268.3L1142.5 271.1L1143.6 273.9L1144.7 276.8L1145.7 279.6L1146.8 282.4L1147.8 285.2L1148.9 288.1L1149.9 290.9L1150.9 293.8L1151.9 296.6L1152.9 299.4L1153.9 302.3L1154.9 305.1L1155.9 308.0L1156.8 310.9L1157.8 313.7L1158.7 316.6L1159.6 319.4L1160.6 322.3L1161.5 325.2L1162.4 328.0L1163.3 330.9L1164.3 333.8L1165.2 336.6L1166.1 339.5L1167.1 342.3L1168.0 345.2L1168.9 348.1L1169.9 350.9L1170.8 353.8L1171.8 356.6L1172.7 359.5L1173.7 362.4L1174.6 365.2L1175.6 368.1L1176.5 370.9L1177.5 373.8L1178.4 376.7L1179.3 379.5L1180.3 382.4L1181.2 385.3L1182.1 388.1L1183.0 391.0L1184.0 393.9L1184.9 396.8L1185.8 399.6L1186.7 402.5L1187.6 405.4L1188.5 408.3L1189.3 411.2L1190.2 414.1L1191.1 416.9L1191.9 419.8L1192.8 422.7L1193.6 425.6L1194.5 428.5L1195.3 431.4L1196.1 434.3L1197.0 437.2L1197.8 440.1L1198.6 443.0L1199.4 445.9L1200.2 448.9L1200.9 451.8L1201.7 454.7L1202.5 457.6L1203.2 460.5L1204.0 463.5L1204.7 466.4L1205.4 469.3L1206.2 472.2L1206.9 475.1L1207.6 478.1L1208.4 481.0L1209.1 483.9L1209.8 486.9L1210.5 489.8L1211.2 492.7L1212.0 495.6L1212.7 498.6L1213.4 501.5L1214.1 504.4L1214.9 507.4L1215.6 510.3L1216.4 513.2L1217.1 516.1L1217.9 519.0L1218.6 522.0L1219.4 524.9L1220.2 527.8L1221.0 530.7L1221.7 533.6L1222.5 536.5L1223.3 539.5L1224.1 542.4L1224.9 545.3L1225.6 548.2L1226.4 551.1L1227.2 554.0L1227.9 557.0L1228.6 559.9L1229.4 562.8L1230.1 565.7L1230.8 568.7L1231.5 571.6L1232.2 574.6L1232.8 577.5L1233.5 580.4L1234.1 583.4L1234.7 586.4L1235.2 589.3L1235.8 592.3" fill="none" stroke="#ff0000" stroke-width="3.4" stroke-linejoin="round" stroke-dasharray="12.8 12.2"/>
<path d="M980.9 131.6L982.1 131.4L985.0 130.8L988.0 130.3L991.0 129.8L994.0 129.4L997.1 129.0L1000.1 128.7L1003.1 128.4L1006.2 128.1L1009.3 127.9L1012.3 127.8L1015.4 127.7L1018.5 127.7L1021.5 127.7L1024.6 127.8L1027.6 128.0L1030.7 128.2L1033.7 128.5L1036.7 128.9L1039.7 129.3L1042.7 129.8L1045.6 130.4L1048.5 131.1L1051.4 131.9L1054.2 132.7L1057.1 133.6L1059.9 134.7L1062.6 135.8L1065.3 137.0L1068.0 138.2L1070.7 139.6L1073.3 141.0L1075.9 142.5L1078.4 144.0L1080.9 145.6L1083.4 147.3L1085.9 149.1L1088.3 150.9L1090.6 152.7L1093.0 154.7L1095.3 156.6L1097.5 158.7L1099.8 160.7L1102.0 162.8L1104.1 165.0L1106.2 167.2L1108.3 169.4L1110.3 171.6L1112.3 173.9L1114.3 176.3L1116.2 178.6L1118.1 181.0L1120.0 183.4L1121.8 185.8L1123.6 188.2L1125.3 190.7L1127.1 193.2L1128.8 195.7L1130.4 198.2L1132.1 200.8L1133.7 203.3L1135.3 205.9L1136.8 208.5L1138.4 211.1L1139.9 213.7L1141.4 216.4L1142.9 219.0L1144.3 221.7L1145.8 224.4L1147.2 227.0L1148.6 229.7L1150.0 232.4L1151.4 235.1L1152.8 237.8L1154.1 240.5L1155.5 243.2L1156.8 245.9L1158.2 248.6L1159.5 251.3L1160.8 254.1L1162.1 256.8L1163.4 259.5L1164.7 262.2L1166.0 265.0L1167.3 267.7L1168.5 270.5L1169.8 273.2L1171.1 275.9L1172.3 278.7L1173.5 281.4L1174.8 284.2L1176.0 287.0L1177.2 289.7L1178.4 292.5L1179.6 295.3L1180.8 298.0L1182.0 300.8L1183.2 303.6L1184.3 306.4L1185.5 309.1L1186.7 311.9L1187.8 314.7L1189.0 317.5L1190.1 320.3L1191.2 323.1L1192.4 325.9L1193.5 328.7L1194.6 331.5L1195.7 334.4L1196.8 337.2L1197.9 340.0L1199.0 342.8L1200.1 345.6L1201.1 348.5L1202.2 351.3L1203.3 354.1L1204.3 357.0L1205.4 359.8L1206.4 362.6L1207.4 365.5L1208.4 368.3L1209.5 371.2L1210.5 374.0L1211.5 376.9L1212.5 379.7L1213.5 382.6L1214.4 385.4L1215.4 388.3L1216.4 391.2L1217.4 394.0L1218.3 396.9L1219.3 399.8L1220.2 402.7L1221.1 405.5L1222.1 408.4L1223.0 411.3L1223.9 414.2L1224.8 417.1L1225.7 420.0L1226.6 422.8L1227.5 425.7L1228.3 428.6L1229.2 431.5L1230.1 434.4L1230.9 437.3L1231.8 440.2L1232.6 443.1L1233.4 446.0L1234.3 448.9L1235.1 451.9L1235.9 454.8L1236.7 457.7L1237.5 460.6L1238.3 463.5L1239.1 466.4L1239.9 469.3L1240.6 472.3L1241.4 475.2L1242.2 478.1L1243.0 481.0L1243.7 483.9L1244.5 486.9L1245.3 489.8L1246.0 492.7L1246.8 495.6L1247.5 498.5L1248.3 501.5L1249.1 504.4L1249.8 507.3L1250.6 510.2L1251.4 513.2L1252.2 516.1L1253.0 519.0L1253.7 521.9L1254.5 524.8L1255.3 527.7L1256.1 530.7L1256.9 533.6L1257.7 536.5L1258.5 539.4L1259.3 542.3L1260.1 545.2L1260.9 548.2L1261.6 551.1L1262.4 554.0L1263.2 556.9L1263.9 559.9L1264.7 562.8L1265.4 565.7L1266.1 568.7L1266.8 571.6L1267.5 574.5L1268.2 577.5L1268.8 580.4L1269.5 583.4L1270.1 586.4L1270.7 589.3L1271.3 592.3" fill="none" stroke="#008000" stroke-width="4.2" stroke-linejoin="round"/>
<path d="M980.9 126.3L982.1 126.2L985.1 125.9L988.1 125.7L991.1 125.5L994.1 125.4L997.2 125.3L1000.2 125.2L1003.2 125.1L1006.3 125.1L1009.4 125.2L1012.4 125.2L1015.5 125.4L1018.5 125.5L1021.6 125.8L1024.6 126.1L1027.7 126.4L1030.7 126.8L1033.7 127.2L1036.7 127.8L1039.7 128.3L1042.7 129.0L1045.6 129.7L1048.5 130.5L1051.4 131.4L1054.2 132.3L1057.1 133.3L1059.9 134.4L1062.6 135.6L1065.3 136.8L1068.0 138.2L1070.7 139.6L1073.3 141.0L1075.9 142.5L1078.5 144.1L1081.0 145.8L1083.5 147.5L1085.9 149.2L1088.4 151.0L1090.7 152.9L1093.1 154.8L1095.4 156.8L1097.7 158.8L1099.9 160.9L1102.1 163.0L1104.2 165.1L1106.4 167.3L1108.4 169.5L1110.5 171.8L1112.5 174.0L1114.4 176.4L1116.4 178.7L1118.2 181.1L1120.1 183.5L1121.9 185.9L1123.7 188.4L1125.4 190.8L1127.1 193.3L1128.8 195.8L1130.5 198.4L1132.1 200.9L1133.7 203.5L1135.3 206.1L1136.8 208.7L1138.3 211.3L1139.8 213.9L1141.3 216.6L1142.8 219.2L1144.3 221.9L1145.7 224.6L1147.1 227.3L1148.5 230.0L1149.9 232.7L1151.3 235.4L1152.7 238.1L1154.1 240.8L1155.5 243.5L1156.8 246.2L1158.2 248.9L1159.6 251.6L1160.9 254.3L1162.2 257.1L1163.6 259.8L1164.9 262.5L1166.2 265.2L1167.5 268.0L1168.8 270.7L1170.1 273.4L1171.4 276.2L1172.7 278.9L1174.0 281.7L1175.3 284.4L1176.5 287.2L1177.8 289.9L1179.0 292.7L1180.3 295.4L1181.5 298.2L1182.7 301.0L1183.9 303.7L1185.2 306.5L1186.4 309.3L1187.5 312.1L1188.7 314.9L1189.9 317.7L1191.1 320.4L1192.2 323.2L1193.4 326.0L1194.5 328.8L1195.6 331.6L1196.8 334.5L1197.9 337.3L1199.0 340.1L1200.1 342.9L1201.2 345.7L1202.3 348.5L1203.4 351.4L1204.4 354.2L1205.5 357.0L1206.6 359.9L1207.6 362.7L1208.7 365.5L1209.7 368.4L1210.7 371.2L1211.8 374.1L1212.8 376.9L1213.8 379.8L1214.8 382.6L1215.8 385.5L1216.8 388.4L1217.8 391.2L1218.8 394.1L1219.7 397.0L1220.7 399.8L1221.7 402.7L1222.6 405.6L1223.6 408.4L1224.5 411.3L1225.5 414.2L1226.4 417.1L1227.3 420.0L1228.2 422.9L1229.2 425.7L1230.1 428.6L1231.0 431.5L1231.9 434.4L1232.8 437.3L1233.7 440.2L1234.6 443.1L1235.5 446.0L1236.3 448.9L1237.2 451.8L1238.1 454.7L1239.0 457.6L1239.8 460.5L1240.7 463.4L1241.5 466.3L1242.4 469.3L1243.2 472.2L1244.1 475.1L1244.9 478.0L1245.7 480.9L1246.6 483.8L1247.4 486.7L1248.2 489.7L1249.0 492.6L1249.9 495.5L1250.7 498.4L1251.5 501.3L1252.3 504.3L1253.1 507.2L1253.9 510.1L1254.7 513.0L1255.5 515.9L1256.3 518.9L1257.1 521.8L1257.9 524.7L1258.6 527.6L1259.4 530.6L1260.2 533.5L1261.0 536.4L1261.8 539.3L1262.5 542.3L1263.3 545.2L1264.1 548.1L1264.8 551.1L1265.6 554.0L1266.4 556.9L1267.1 559.8L1267.9 562.8L1268.7 565.7L1269.4 568.6L1270.2 571.5L1270.9 574.5L1271.7 577.4L1272.4 580.3L1273.2 583.2L1273.9 586.2L1274.7 589.1L1275.4 592.0" fill="none" stroke="#ff0000" stroke-width="3.4" stroke-linejoin="round" stroke-dasharray="12.8 12.2"/>
<path d="M980.9 353.6L981.0 353.5L984.7 346.1L990.6 343.2L998.7 338.8L1005.3 325.5L1012.7 317.4L1019.6 302.8L1021.4 300.2L1023.2 297.6L1024.9 295.0L1026.6 292.5L1028.3 289.9L1030.0 287.4L1031.7 284.8L1033.3 282.3L1035.0 279.8L1036.6 277.3L1038.3 274.8L1039.9 272.3L1041.6 269.8L1043.2 267.3L1044.9 264.8L1046.5 262.3L1048.2 259.8L1049.9 257.4L1051.6 254.9L1053.3 252.5L1055.0 250.1L1056.8 247.6L1058.5 245.2L1060.3 242.8L1062.2 240.4L1064.0 238.0L1065.9 235.6L1067.9 233.2L1069.8 230.8L1071.9 228.5L1073.9 226.2L1076.0 223.9L1078.1 221.6L1080.3 219.4L1082.5 217.2L1084.7 215.1L1087.0 213.0L1089.3 211.0L1091.6 209.0L1094.0 207.1L1096.4 205.3L1098.9 203.6L1101.4 201.9L1103.9 200.4L1106.5 198.9L1109.1 197.5L1111.8 196.2L1114.5 195.1L1117.3 194.0L1120.0 193.1L1122.9 192.3L1125.7 191.6L1128.7 191.0L1131.6 190.6L1134.6 190.3L1137.6 190.2L1140.7 190.2L1143.7 190.3L1146.8 190.6L1149.8 191.0L1152.8 191.5L1155.8 192.2L1158.8 192.9L1161.7 193.9L1164.5 194.9L1167.3 196.1L1170.1 197.4L1172.7 198.8L1175.3 200.3L1177.8 201.9L1180.3 203.6L1182.6 205.5L1185.0 207.4L1187.3 209.3L1189.5 211.4L1191.7 213.5L1193.8 215.6L1195.9 217.8L1198.0 220.1L1200.0 222.3L1202.0 224.6L1204.0 226.9L1205.9 229.2L1207.9 231.6L1209.8 233.9L1211.6 236.3L1213.5 238.7L1215.3 241.1L1217.1 243.6L1218.9 246.0L1220.6 248.5L1222.4 251.0L1224.1 253.5L1225.7 256.0L1227.4 258.5L1229.0 261.0L1230.7 263.6L1232.3 266.2L1233.8 268.7L1235.4 271.3L1236.9 273.9L1238.5 276.5L1240.0 279.2L1241.5 281.8L1242.9 284.4L1244.4 287.1L1245.8 289.7L1247.3 292.4L1248.7 295.1L1250.1 297.7L1251.4 300.4L1252.8 303.1L1254.1 305.8L1255.5 308.5L1256.8 311.3L1258.1 314.0L1259.3 316.7L1260.6 319.5L1261.8 322.2L1263.1 325.0L1264.3 327.7L1265.4 330.5L1266.6 333.3L1267.8 336.1L1268.9 338.9L1270.0 341.7L1271.2 344.5L1272.3 347.3L1273.4 350.1L1274.5 352.9L1275.6 355.8L1276.7 358.6L1277.8 361.4L1278.9 364.2L1280.0 367.0L1281.1 369.8L1282.3 372.6L1283.4 375.5L1284.5 378.3L1285.6 381.1L1286.7 383.9L1287.8 386.7L1288.9 389.5L1290.0 392.3L1291.1 395.2L1292.1 398.0L1293.2 400.8L1294.3 403.6L1295.3 406.5L1296.4 409.3L1297.4 412.1L1298.5 415.0L1299.5 417.8L1300.5 420.7L1301.5 423.5L1302.5 426.4L1303.4 429.2L1304.4 432.1L1305.3 435.0L1306.2 437.9L1307.2 440.7L1308.0 443.6L1308.9 446.5L1309.8 449.4L1310.6 452.3L1311.5 455.2L1312.3 458.1L1313.1 461.0L1313.9 463.9L1314.8 466.9L1315.6 469.8L1316.4 472.7L1317.1 475.6L1317.9 478.5L1318.7 481.5L1319.5 484.4L1320.3 487.3L1321.1 490.2L1321.9 493.1L1322.7 496.1L1323.5 499.0L1324.3 501.9L1325.1 504.8L1325.9 507.7L1326.7 510.6L1327.5 513.5L1328.4 516.4L1329.2 519.3L1330.1 522.2L1331.0 525.1L1331.9 528.0L1332.7 530.9L1333.6 533.8L1334.5 536.7L1335.4 539.6L1336.2 542.5L1337.1 545.4L1337.9 548.3L1338.8 551.2L1339.6 554.1L1340.4 557.0L1341.3 559.9L1342.0 562.8L1342.8 565.7L1343.6 568.7L1344.3 571.6L1345.0 574.5L1345.7 577.5L1346.3 580.4L1346.9 583.4L1347.5 586.4L1348.1 589.4L1348.6 592.3" fill="none" stroke="#00ffff" stroke-width="4.2" stroke-linejoin="round"/>
<path d="M980.9 284.5L982.1 284.1L985.1 283.0L988.0 281.8L990.8 280.5L993.5 279.2L996.1 277.7L998.7 276.2L1001.2 274.6L1003.7 272.9L1006.1 271.2L1008.4 269.4L1010.7 267.5L1013.0 265.6L1015.2 263.6L1017.4 261.6L1019.6 259.6L1021.7 257.5L1023.8 255.4L1025.9 253.2L1028.0 251.1L1030.1 248.9L1032.2 246.8L1034.3 244.6L1036.4 242.4L1038.5 240.2L1040.6 238.0L1042.7 235.9L1044.9 233.7L1047.1 231.6L1049.3 229.5L1051.6 227.5L1053.9 225.4L1056.2 223.4L1058.6 221.4L1060.9 219.5L1063.3 217.6L1065.8 215.8L1068.2 214.0L1070.7 212.2L1073.3 210.5L1075.8 208.9L1078.4 207.3L1081.0 205.8L1083.6 204.3L1086.3 202.9L1089.0 201.6L1091.7 200.3L1094.4 199.1L1097.2 198.0L1100.0 197.0L1102.8 196.0L1105.7 195.1L1108.6 194.4L1111.5 193.7L1114.4 193.1L1117.4 192.6L1120.3 192.2L1123.4 191.8L1126.4 191.6L1129.4 191.5L1132.4 191.5L1135.5 191.6L1138.5 191.8L1141.5 192.1L1144.5 192.6L1147.5 193.1L1150.4 193.8L1153.3 194.5L1156.2 195.4L1159.0 196.4L1161.7 197.6L1164.4 198.8L1167.1 200.2L1169.7 201.6L1172.3 203.2L1174.8 204.8L1177.3 206.5L1179.7 208.3L1182.1 210.1L1184.5 212.0L1186.8 214.0L1189.1 216.0L1191.4 218.0L1193.7 220.0L1195.9 222.1L1198.1 224.2L1200.2 226.4L1202.4 228.5L1204.5 230.7L1206.6 232.9L1208.7 235.1L1210.7 237.3L1212.7 239.5L1214.7 241.8L1216.7 244.1L1218.7 246.4L1220.6 248.7L1222.5 251.0L1224.4 253.4L1226.2 255.7L1228.1 258.1L1229.9 260.5L1231.7 262.9L1233.5 265.4L1235.2 267.8L1237.0 270.3L1238.7 272.7L1240.4 275.2L1242.1 277.7L1243.7 280.2L1245.4 282.8L1247.0 285.3L1248.6 287.8L1250.2 290.4L1251.8 293.0L1253.3 295.5L1254.9 298.1L1256.4 300.7L1257.9 303.3L1259.4 306.0L1260.9 308.6L1262.3 311.2L1263.8 313.9L1265.2 316.5L1266.6 319.2L1268.0 321.9L1269.4 324.5L1270.8 327.2L1272.2 329.9L1273.5 332.6L1274.9 335.3L1276.2 338.0L1277.6 340.7L1278.9 343.4L1280.2 346.1L1281.5 348.9L1282.8 351.6L1284.0 354.3L1285.3 357.1L1286.6 359.8L1287.8 362.6L1289.1 365.3L1290.3 368.0L1291.6 370.8L1292.8 373.6L1294.0 376.3L1295.2 379.1L1296.4 381.8L1297.6 384.6L1298.8 387.4L1300.0 390.1L1301.2 392.9L1302.4 395.7L1303.5 398.5L1304.7 401.3L1305.8 404.0L1307.0 406.8L1308.1 409.6L1309.2 412.4L1310.3 415.2L1311.4 418.0L1312.5 420.8L1313.6 423.6L1314.7 426.5L1315.8 429.3L1316.8 432.1L1317.9 434.9L1319.0 437.7L1320.0 440.6L1321.0 443.4L1322.1 446.2L1323.1 449.1L1324.1 451.9L1325.1 454.7L1326.1 457.6L1327.2 460.4L1328.2 463.3L1329.1 466.1L1330.1 469.0L1331.1 471.8L1332.1 474.7L1333.1 477.5L1334.1 480.4L1335.1 483.2L1336.0 486.1L1337.0 488.9L1338.0 491.8L1339.0 494.6L1340.0 497.5L1340.9 500.4L1341.9 503.2L1342.9 506.1L1343.9 508.9L1344.9 511.8L1345.8 514.6L1346.8 517.5L1347.8 520.3L1348.8 523.2L1349.8 526.0L1350.8 528.8L1351.7 531.7L1352.7 534.5L1353.7 537.4L1354.7 540.2L1355.6 543.1L1356.6 546.0L1357.5 548.8L1358.4 551.7L1359.4 554.5L1360.3 557.4L1361.2 560.3L1362.0 563.2L1362.9 566.1L1363.8 569.0L1364.6 571.9L1365.4 574.8L1366.2 577.7L1367.0 580.6L1367.7 583.5L1368.4 586.5L1369.1 589.4L1369.8 592.4" fill="none" stroke="#ff0000" stroke-width="3.4" stroke-linejoin="round" stroke-dasharray="12.8 12.2"/>
<path d="M1077.5 592.3L1084.3 568.5L1088.7 566.2L1091.7 548.6L1093.1 536.8L1097.5 519.9L1102.6 512.4L1103.5 509.5L1104.4 506.7L1105.4 503.8L1106.3 501.0L1107.2 498.1L1108.1 495.2L1109.1 492.4L1110.0 489.5L1110.9 486.6L1111.8 483.8L1112.7 480.9L1113.7 478.0L1114.6 475.1L1115.5 472.2L1116.4 469.4L1117.4 466.5L1118.3 463.6L1119.2 460.7L1120.2 457.8L1121.1 455.0L1122.1 452.1L1123.1 449.2L1124.0 446.3L1125.0 443.5L1126.0 440.6L1127.0 437.8L1128.0 434.9L1129.0 432.0L1130.0 429.2L1131.1 426.4L1132.1 423.5L1133.2 420.7L1134.3 417.9L1135.4 415.1L1136.5 412.3L1137.6 409.5L1138.7 406.7L1139.9 403.9L1141.0 401.1L1142.2 398.3L1143.4 395.6L1144.6 392.8L1145.8 390.0L1147.0 387.3L1148.2 384.5L1149.5 381.8L1150.7 379.0L1152.0 376.3L1153.2 373.6L1154.5 370.8L1155.8 368.1L1157.1 365.4L1158.4 362.7L1159.7 359.9L1161.0 357.2L1162.4 354.5L1163.7 351.8L1165.1 349.1L1166.4 346.4L1167.8 343.7L1169.2 341.0L1170.5 338.3L1171.9 335.6L1173.3 332.9L1174.7 330.2L1176.1 327.5L1177.5 324.9L1179.0 322.2L1180.4 319.5L1181.9 316.8L1183.3 314.2L1184.8 311.5L1186.3 308.9L1187.9 306.3L1189.4 303.7L1191.0 301.1L1192.6 298.5L1194.2 296.0L1195.8 293.4L1197.5 290.9L1199.2 288.4L1200.9 286.0L1202.7 283.5L1204.4 281.1L1206.3 278.7L1208.1 276.3L1210.0 274.0L1211.9 271.7L1213.9 269.4L1215.9 267.2L1218.0 265.0L1220.1 262.8L1222.2 260.7L1224.4 258.6L1226.6 256.5L1228.9 254.5L1231.2 252.6L1233.6 250.7L1236.0 248.8L1238.5 247.0L1241.1 245.4L1243.7 243.8L1246.3 242.3L1249.1 240.9L1251.8 239.7L1254.7 238.5L1257.5 237.5L1260.4 236.7L1263.4 236.0L1266.3 235.5L1269.3 235.1L1272.3 234.9L1275.3 234.8L1278.3 235.0L1281.2 235.2L1284.2 235.7L1287.2 236.2L1290.1 236.9L1293.0 237.8L1295.9 238.7L1298.8 239.8L1301.6 241.0L1304.4 242.2L1307.1 243.6L1309.8 245.1L1312.4 246.6L1315.0 248.2L1317.6 249.8L1320.0 251.6L1322.5 253.4L1324.8 255.2L1327.1 257.1L1329.4 259.1L1331.6 261.1L1333.8 263.1L1335.9 265.2L1338.0 267.4L1340.0 269.6L1342.0 271.8L1344.0 274.1L1345.9 276.4L1347.7 278.7L1349.6 281.1L1351.4 283.6L1353.1 286.0L1354.8 288.5L1356.5 291.0L1358.2 293.6L1359.8 296.1L1361.4 298.7L1363.0 301.3L1364.6 303.9L1366.1 306.6L1367.6 309.2L1369.1 311.9L1370.5 314.6L1372.0 317.3L1373.4 320.0L1374.8 322.7L1376.2 325.4L1377.6 328.1L1379.0 330.8L1380.3 333.5L1381.7 336.2L1383.0 338.9L1384.3 341.7L1385.6 344.4L1386.9 347.1L1388.2 349.9L1389.4 352.6L1390.7 355.3L1391.9 358.1L1393.2 360.8L1394.4 363.6L1395.6 366.4L1396.8 369.1L1398.0 371.9L1399.2 374.7L1400.3 377.4L1401.5 380.2L1402.7 383.0L1403.8 385.8L1404.9 388.5L1406.1 391.3L1407.2 394.1L1408.3 396.9L1409.4 399.7L1410.5 402.5L1411.6 405.3L1412.7 408.1L1413.8 410.9L1414.8 413.8L1415.9 416.6L1417.0 419.4L1418.0 422.2L1419.1 425.1L1420.1 427.9L1421.2 430.7L1422.2 433.6L1423.2 436.4L1424.3 439.2L1425.3 442.1L1426.3 444.9L1427.3 447.8L1428.3 450.6L1429.3 453.5L1430.3 456.3L1431.3 459.2L1432.3 462.1L1433.3 464.9L1434.2 467.8L1435.2 470.7L1436.2 473.5L1437.1 476.4L1438.1 479.3L1439.0 482.1L1440.0 485.0L1440.9 487.9L1441.9 490.8L1442.8 493.7L1443.7 496.5L1444.6 499.4L1445.5 502.3L1446.5 505.2L1447.4 508.1L1448.3 511.0L1449.2 513.9L1450.1 516.7L1450.9 519.6L1451.8 522.5L1452.7 525.4L1453.6 528.3L1454.5 531.2L1455.3 534.1L1456.2 537.0L1457.1 539.9L1457.9 542.8L1458.8 545.7L1459.6 548.6L1460.4 551.5L1461.3 554.4L1462.1 557.3L1463.0 560.2L1463.8 563.1L1464.6 566.0L1465.4 568.9L1466.2 571.8L1467.0 574.7L1467.9 577.6L1468.7 580.5L1469.5 583.4L1470.3 586.3L1471.0 589.1L1471.8 592.0" fill="none" stroke="#ff9900" stroke-width="4.2" stroke-linejoin="round"/>
<path d="M980.9 529.6L982.5 528.8L985.2 527.3L987.7 525.7L990.1 524.0L992.4 522.2L994.7 520.3L996.9 518.3L999.0 516.3L1001.0 514.1L1003.0 511.9L1004.9 509.6L1006.8 507.3L1008.6 504.9L1010.4 502.4L1012.1 500.0L1013.8 497.4L1015.5 494.9L1017.1 492.4L1018.8 489.8L1020.4 487.2L1022.0 484.7L1023.6 482.1L1025.1 479.5L1026.7 476.9L1028.2 474.3L1029.8 471.7L1031.3 469.1L1032.8 466.5L1034.3 463.9L1035.8 461.3L1037.4 458.7L1038.9 456.1L1040.4 453.5L1041.9 450.9L1043.4 448.3L1044.9 445.7L1046.4 443.1L1048.0 440.5L1049.5 437.9L1051.0 435.3L1052.6 432.8L1054.1 430.2L1055.7 427.6L1057.3 425.0L1058.8 422.5L1060.4 419.9L1062.0 417.3L1063.6 414.8L1065.2 412.2L1066.8 409.7L1068.4 407.1L1070.0 404.6L1071.6 402.1L1073.3 399.5L1074.9 397.0L1076.6 394.5L1078.2 392.0L1079.9 389.5L1081.6 387.0L1083.2 384.5L1084.9 382.0L1086.6 379.5L1088.3 377.0L1090.0 374.5L1091.7 372.0L1093.5 369.6L1095.2 367.1L1096.9 364.7L1098.7 362.2L1100.5 359.8L1102.2 357.3L1104.0 354.9L1105.8 352.5L1107.6 350.1L1109.4 347.7L1111.2 345.3L1113.0 342.9L1114.9 340.5L1116.7 338.1L1118.6 335.7L1120.4 333.4L1122.3 331.0L1124.2 328.7L1126.1 326.4L1128.0 324.0L1129.9 321.7L1131.9 319.4L1133.8 317.1L1135.8 314.9L1137.8 312.6L1139.8 310.4L1141.8 308.1L1143.9 305.9L1145.9 303.7L1148.0 301.5L1150.1 299.3L1152.2 297.2L1154.3 295.0L1156.4 292.9L1158.6 290.8L1160.8 288.8L1163.0 286.7L1165.3 284.7L1167.5 282.7L1169.8 280.8L1172.1 278.8L1174.5 276.9L1176.9 275.1L1179.3 273.3L1181.7 271.5L1184.2 269.7L1186.7 268.0L1189.2 266.4L1191.7 264.7L1194.3 263.2L1196.9 261.7L1199.6 260.2L1202.2 258.8L1204.9 257.4L1207.6 256.1L1210.4 254.9L1213.2 253.7L1216.0 252.6L1218.8 251.5L1221.6 250.5L1224.5 249.6L1227.4 248.8L1230.3 248.1L1233.2 247.4L1236.1 246.8L1239.1 246.3L1242.1 245.8L1245.1 245.4L1248.1 245.1L1251.1 244.9L1254.1 244.8L1257.1 244.7L1260.1 244.7L1263.1 244.8L1266.1 245.0L1269.1 245.2L1272.1 245.5L1275.1 245.9L1278.1 246.4L1281.1 246.9L1284.0 247.5L1286.9 248.2L1289.9 249.0L1292.8 249.8L1295.6 250.7L1298.5 251.7L1301.3 252.7L1304.1 253.8L1306.9 254.9L1309.7 256.1L1312.4 257.4L1315.1 258.7L1317.8 260.1L1320.5 261.5L1323.1 263.0L1325.7 264.5L1328.3 266.1L1330.9 267.7L1333.4 269.4L1335.9 271.1L1338.4 272.8L1340.8 274.6L1343.2 276.4L1345.6 278.3L1347.9 280.1L1350.2 282.1L1352.5 284.0L1354.8 286.0L1357.0 288.0L1359.2 290.1L1361.4 292.1L1363.6 294.2L1365.7 296.3L1367.8 298.5L1369.9 300.6L1372.0 302.8L1374.0 305.0L1376.1 307.2L1378.1 309.5L1380.1 311.7L1382.0 314.0L1384.0 316.3L1385.9 318.6L1387.8 320.9L1389.7 323.3L1391.6 325.6L1393.4 328.0L1395.2 330.4L1397.1 332.8L1398.9 335.2L1400.6 337.6L1402.4 340.0L1404.2 342.5L1405.9 344.9L1407.6 347.4L1409.3 349.9L1411.0 352.4L1412.7 354.9L1414.3 357.4L1416.0 359.9L1417.6 362.4L1419.2 365.0L1420.8 367.5L1422.4 370.1L1424.0 372.6L1425.6 375.2L1427.1 377.8L1428.7 380.4L1430.2 383.0L1431.8 385.5L1433.3 388.2L1434.8 390.8L1436.3 393.4L1437.8 396.0L1439.2 398.6L1440.7 401.3L1442.2 403.9L1443.6 406.5L1445.1 409.2L1446.5 411.8L1447.9 414.5L1449.4 417.1L1450.8 419.8L1452.2 422.4L1453.6 425.1L1455.0 427.7L1456.4 430.4L1457.8 433.1L1459.2 435.8L1460.5 438.4L1461.9 441.1L1463.3 443.8L1464.6 446.5L1466.0 449.2L1467.3 451.9L1468.7 454.6L1470.0 457.2L1471.4 459.9L1472.7 462.6L1474.1 465.3L1475.4 468.0L1476.7 470.7L1478.0 473.4L1479.4 476.1L1480.7 478.8L1482.0 481.5L1483.3 484.2L1484.7 486.9L1486.0 489.6L1487.3 492.4L1488.6 495.1L1490.0 497.8L1491.3 500.5L1492.6 503.2L1493.9 505.9L1495.2 508.6L1496.5 511.3L1497.8 514.0L1499.1 516.7L1500.4 519.5L1501.7 522.2L1502.9 524.9L1504.2 527.6L1505.4 530.4L1506.7 533.1L1507.9 535.9L1509.1 538.6L1510.3 541.4L1511.5 544.1L1512.6 546.9L1513.8 549.7L1514.9 552.5L1516.0 555.3L1517.1 558.1L1518.2 560.9L1519.3 563.7L1520.3 566.5L1521.3 569.4L1522.3 572.2L1523.3 575.1L1524.2 577.9L1525.1 580.8L1526.0 583.7L1526.9 586.6L1527.7 589.5L1528.6 592.4" fill="none" stroke="#ff0000" stroke-width="3.4" stroke-linejoin="round" stroke-dasharray="12.8 12.2"/>
<path d="M1220.1 592.4L1220.9 589.5L1221.6 586.6L1222.4 583.6L1223.2 580.7L1224.0 577.8L1224.9 574.9L1225.7 572.0L1226.5 569.1L1227.3 566.2L1228.2 563.3L1229.1 560.4L1229.9 557.5L1230.8 554.6L1231.7 551.7L1232.6 548.9L1233.5 546.0L1234.4 543.1L1235.4 540.3L1236.3 537.4L1237.3 534.6L1238.2 531.7L1239.2 528.8L1240.2 526.0L1241.1 523.1L1242.1 520.3L1243.0 517.4L1243.9 514.5L1244.9 511.7L1245.8 508.8L1246.7 505.9L1247.6 503.1L1248.6 500.2L1249.5 497.3L1250.4 494.5L1251.4 491.6L1252.4 488.7L1253.3 485.9L1254.3 483.0L1255.3 480.2L1256.3 477.3L1257.3 474.5L1258.4 471.7L1259.4 468.8L1260.4 466.0L1261.5 463.2L1262.6 460.4L1263.6 457.5L1264.7 454.7L1265.8 451.9L1266.9 449.1L1268.0 446.3L1269.1 443.5L1270.3 440.7L1271.4 437.9L1272.5 435.1L1273.7 432.3L1274.9 429.5L1276.0 426.7L1277.2 424.0L1278.4 421.2L1279.6 418.4L1280.8 415.6L1282.0 412.9L1283.2 410.1L1284.4 407.3L1285.7 404.6L1286.9 401.8L1288.2 399.1L1289.4 396.3L1290.7 393.6L1292.0 390.8L1293.2 388.1L1294.5 385.4L1295.9 382.7L1297.2 379.9L1298.5 377.2L1299.8 374.5L1301.2 371.8L1302.6 369.2L1304.0 366.5L1305.4 363.8L1306.8 361.1L1308.2 358.5L1309.6 355.8L1311.1 353.2L1312.6 350.6L1314.1 348.0L1315.6 345.4L1317.1 342.8L1318.7 340.2L1320.3 337.6L1321.9 335.1L1323.5 332.5L1325.1 330.0L1326.8 327.5L1328.5 325.0L1330.2 322.5L1331.9 320.0L1333.6 317.6L1335.4 315.1L1337.2 312.7L1339.0 310.3L1340.9 307.9L1342.8 305.6L1344.7 303.2L1346.7 300.9L1348.7 298.6L1350.7 296.4L1352.7 294.2L1354.8 292.0L1357.0 289.9L1359.2 287.8L1361.4 285.7L1363.7 283.7L1366.0 281.7L1368.4 279.7L1370.8 277.8L1373.3 276.0L1375.8 274.3L1378.4 272.6L1381.0 271.1L1383.7 269.6L1386.4 268.3L1389.2 267.2L1392.0 266.1L1394.8 265.2L1397.7 264.5L1400.6 263.9L1403.5 263.5L1406.5 263.3L1409.4 263.2L1412.3 263.3L1415.2 263.6L1418.1 264.0L1421.0 264.6L1423.9 265.4L1426.7 266.3L1429.5 267.3L1432.3 268.5L1435.1 269.8L1437.8 271.1L1440.5 272.6L1443.1 274.2L1445.7 275.9L1448.3 277.6L1450.8 279.4L1453.2 281.3L1455.6 283.2L1458.0 285.2L1460.3 287.2L1462.5 289.3L1464.7 291.4L1466.8 293.5L1468.9 295.7L1470.9 297.9L1472.9 300.2L1474.9 302.5L1476.8 304.8L1478.7 307.1L1480.6 309.5L1482.4 311.9L1484.2 314.3L1486.0 316.7L1487.8 319.2L1489.5 321.6L1491.2 324.1L1492.9 326.6L1494.6 329.1L1496.3 331.6L1497.9 334.1L1499.5 336.7L1501.1 339.2L1502.7 341.8L1504.3 344.4L1505.8 346.9L1507.3 349.5L1508.9 352.2L1510.4 354.8L1511.8 357.4L1513.3 360.1L1514.7 362.7L1516.2 365.4L1517.6 368.0L1519.0 370.7L1520.3 373.4L1521.7 376.1L1523.0 378.8L1524.4 381.5L1525.7 384.3L1527.0 387.0L1528.3 389.7L1529.5 392.5L1530.8 395.2L1532.0 398.0L1533.3 400.7L1534.5 403.5L1535.7 406.3L1536.9 409.0L1538.1 411.8L1539.2 414.6L1540.4 417.4L1541.5 420.2L1542.6 423.0L1543.8 425.8L1544.9 428.6L1545.9 431.4L1547.0 434.2L1548.1 437.0L1549.2 439.9L1550.2 442.7L1551.3 445.5L1552.3 448.4L1553.3 451.2L1554.3 454.0L1555.3 456.9L1556.3 459.7L1557.3 462.6L1558.3 465.4L1559.3 468.3L1560.2 471.2L1561.2 474.0L1562.2 476.9L1563.1 479.7L1564.0 482.6L1565.0 485.5L1565.9 488.4L1566.8 491.2L1567.7 494.1L1568.6 497.0L1569.5 499.9L1570.4 502.7L1571.3 505.6L1572.2 508.5L1573.1 511.4L1574.0 514.3L1574.9 517.2L1575.7 520.1L1576.6 523.0L1577.5 525.9L1578.3 528.7L1579.2 531.6L1580.1 534.5L1580.9 537.4L1581.8 540.3L1582.6 543.2L1583.5 546.1L1584.3 549.0L1585.2 551.9L1586.0 554.8L1586.9 557.7L1587.8 560.6L1588.6 563.5L1589.5 566.4L1590.3 569.3L1591.2 572.2L1592.0 575.0L1592.9 577.9L1593.8 580.8L1594.6 583.7L1595.5 586.6L1596.3 589.5L1597.2 592.4" fill="none" stroke="#800080" stroke-width="4.2" stroke-linejoin="round"/>
<path d="M1063.9 592.4L1065.3 589.7L1066.7 587.1L1068.1 584.4L1069.5 581.7L1071.0 579.1L1072.4 576.4L1073.9 573.8L1075.3 571.1L1076.8 568.5L1078.3 565.9L1079.8 563.3L1081.3 560.6L1082.8 558.0L1084.3 555.4L1085.8 552.8L1087.3 550.2L1088.9 547.6L1090.4 545.1L1092.0 542.5L1093.5 539.9L1095.1 537.3L1096.6 534.8L1098.2 532.2L1099.8 529.6L1101.4 527.1L1103.0 524.5L1104.6 522.0L1106.2 519.4L1107.8 516.9L1109.4 514.3L1111.0 511.8L1112.6 509.2L1114.2 506.7L1115.9 504.1L1117.5 501.6L1119.1 499.1L1120.8 496.5L1122.4 494.0L1124.0 491.5L1125.7 488.9L1127.3 486.4L1128.9 483.9L1130.6 481.3L1132.2 478.8L1133.9 476.3L1135.5 473.8L1137.2 471.2L1138.8 468.7L1140.5 466.2L1142.2 463.7L1143.8 461.2L1145.5 458.7L1147.2 456.2L1148.8 453.7L1150.5 451.2L1152.2 448.7L1153.9 446.2L1155.6 443.7L1157.3 441.2L1159.0 438.7L1160.7 436.2L1162.4 433.8L1164.2 431.3L1166.0 428.9L1167.7 426.5L1169.5 424.1L1171.4 421.7L1173.2 419.3L1175.1 417.0L1177.1 414.7L1179.0 412.4L1181.0 410.1L1183.0 407.9L1185.0 405.6L1187.0 403.4L1189.0 401.1L1191.0 398.9L1193.1 396.7L1195.1 394.4L1197.1 392.2L1199.2 390.0L1201.2 387.7L1203.2 385.5L1205.3 383.3L1207.3 381.1L1209.4 378.9L1211.4 376.7L1213.5 374.5L1215.6 372.3L1217.7 370.1L1219.7 367.9L1221.8 365.8L1223.9 363.6L1226.1 361.5L1228.2 359.3L1230.3 357.2L1232.5 355.1L1234.6 353.0L1236.8 350.9L1239.0 348.9L1241.2 346.8L1243.4 344.8L1245.6 342.8L1247.9 340.8L1250.1 338.8L1252.4 336.9L1254.7 334.9L1257.0 333.0L1259.3 331.1L1261.7 329.2L1264.1 327.4L1266.5 325.6L1268.9 323.7L1271.3 322.0L1273.8 320.2L1276.2 318.5L1278.7 316.8L1281.3 315.1L1283.8 313.5L1286.4 311.9L1289.0 310.3L1291.6 308.7L1294.2 307.2L1296.9 305.7L1299.5 304.3L1302.2 302.8L1304.9 301.5L1307.7 300.1L1310.4 298.8L1313.2 297.5L1315.9 296.3L1318.7 295.1L1321.5 294.0L1324.3 292.9L1327.2 291.8L1330.0 290.8L1332.9 289.8L1335.7 288.9L1338.6 288.0L1341.5 287.2L1344.4 286.4L1347.3 285.7L1350.2 285.0L1353.1 284.3L1356.1 283.8L1359.0 283.2L1362.0 282.8L1364.9 282.3L1367.9 282.0L1370.8 281.7L1373.8 281.4L1376.8 281.2L1379.8 281.1L1382.7 281.1L1385.7 281.0L1388.7 281.1L1391.7 281.2L1394.7 281.4L1397.7 281.6L1400.7 281.9L1403.6 282.3L1406.6 282.7L1409.6 283.1L1412.6 283.6L1415.5 284.2L1418.5 284.8L1421.4 285.5L1424.4 286.2L1427.3 286.9L1430.3 287.7L1433.2 288.6L1436.1 289.5L1439.0 290.4L1441.9 291.4L1444.7 292.5L1447.6 293.5L1450.4 294.6L1453.3 295.8L1456.1 297.0L1458.9 298.2L1461.6 299.5L1464.4 300.8L1467.1 302.1L1469.9 303.5L1472.6 304.9L1475.2 306.3L1477.9 307.8L1480.5 309.3L1483.1 310.8L1485.7 312.3L1488.3 313.9L1490.8 315.5L1493.3 317.2L1495.8 318.8L1498.2 320.5L1500.7 322.2L1503.1 323.9L1505.4 325.7L1507.8 327.5L1510.1 329.3L1512.4 331.2L1514.7 333.1L1516.9 335.0L1519.2 336.9L1521.4 338.9L1523.6 341.0L1525.8 343.0L1528.0 345.1L1530.1 347.2L1532.3 349.3L1534.4 351.4L1536.6 353.5L1538.7 355.7L1540.8 357.8L1543.0 360.0L1545.1 362.1L1547.2 364.3L1549.3 366.4L1551.4 368.6L1553.5 370.8L1555.6 373.0L1557.7 375.2L1559.8 377.4L1561.9 379.6L1563.9 381.8L1565.9 384.0L1568.0 386.3L1570.0 388.5L1572.0 390.8L1574.0 393.1L1575.9 395.4L1577.9 397.7L1579.8 400.0L1581.8 402.3L1583.7 404.6L1585.6 406.9L1587.5 409.3L1589.3 411.7L1591.2 414.0L1593.0 416.4L1594.8 418.8L1596.7 421.2L1598.4 423.6L1600.2 426.1L1602.0 428.5L1603.8 430.9L1605.5 433.4L1607.2 435.8L1609.0 438.3L1610.7 440.8L1612.4 443.3L1614.0 445.8L1615.7 448.3L1617.4 450.8L1619.0 453.3L1620.7 455.8L1622.3 458.4L1623.9 460.9L1625.5 463.4L1627.1 466.0L1628.7 468.5L1630.3 471.1L1631.9 473.7L1633.4 476.3L1635.0 478.8L1636.5 481.4L1638.1 484.0L1639.6 486.6L1641.1 489.2L1642.6 491.8L1644.1 494.5L1645.6 497.1L1647.1 499.7L1648.6 502.3L1650.1 505.0L1651.6 507.6L1653.0 510.2L1654.5 512.9L1655.9 515.5L1657.4 518.2L1658.8 520.8L1660.2 523.5L1661.7 526.1L1663.1 528.8L1664.5 531.4L1665.9 534.1L1667.4 536.8L1668.8 539.4L1670.2 542.1L1671.6 544.8L1673.0 547.4L1674.4 550.1L1675.8 552.8L1677.2 555.4L1678.5 558.1L1679.9 560.8L1681.3 563.5L1682.7 566.1L1684.1 568.8L1685.5 571.5L1686.8 574.1L1688.2 576.8L1689.6 579.5L1691.0 582.1L1692.3 584.8L1693.7 587.5L1695.1 590.1L1696.5 592.8" fill="none" stroke="#ff0000" stroke-width="3.4" stroke-linejoin="round" stroke-dasharray="12.8 12.2"/>
</g>
<text x="978.4" y="632.9" text-anchor="middle" font-size="31.0">0</text>
<text x="1158.62" y="632.9" text-anchor="middle" font-size="31.0">0.4</text>
<text x="1338.85" y="632.9" text-anchor="middle" font-size="31.0">0.8</text>
<text x="1519.08" y="632.9" text-anchor="middle" font-size="31.0">1.2</text>
<text x="1699.3" y="632.9" text-anchor="middle" font-size="31.0">1.6</text>
<text x="954.3" y="156.5" text-anchor="end" font-size="31.0">10<tspan x="955.5" dy="-15.5" text-anchor="start" font-size="25.3">2</tspan></text>
<text x="954.3" y="337.74" text-anchor="end" font-size="31.0">10<tspan x="955.5" dy="-15.5" text-anchor="start" font-size="25.3">0</tspan></text>
<text x="944" y="518.98" text-anchor="end" font-size="31.0">10<tspan x="945.2" dy="-15.5" text-anchor="start" font-size="25.3">-2</tspan></text>
<text x="1587.8" y="81.8" font-size="38.6" fill="#000" stroke="#000">(b)</text>
</g>
<text font-family="'Liberation Serif', 'DejaVu Serif', serif" fill="#333333"><tspan x="448.17" y="671.00" font-size="34.68" font-style="italic" textLength="15.90" lengthAdjust="spacingAndGlyphs">r</tspan><tspan x="466.80" y="679.56" font-size="53.58" font-style="normal" textLength="14.22" lengthAdjust="spacingAndGlyphs">/</tspan><tspan x="482.65" y="670.70" font-size="30.48" font-style="italic" textLength="18.83" lengthAdjust="spacingAndGlyphs">σ</tspan></text>
<text transform="translate(26.0 357.1) rotate(-90)" font-family="'Liberation Serif', 'DejaVu Serif', serif" fill="#333333"><tspan x="-2.27" y="-1.62" font-size="39.14" font-style="italic" textLength="23.55" lengthAdjust="spacingAndGlyphs">ψ</tspan><tspan x="24.52" y="0.32" font-size="38.01" font-style="normal" textLength="14.63" lengthAdjust="spacingAndGlyphs">(</tspan><tspan x="37.08" y="-0.00" font-size="33.19" font-style="italic" textLength="14.80" lengthAdjust="spacingAndGlyphs">r</tspan><tspan x="55.35" y="0.27" font-size="37.80" font-style="normal" textLength="6.81" lengthAdjust="spacingAndGlyphs">|</tspan><tspan x="62.89" y="-0.14" font-size="33.62" font-style="italic" textLength="15.18" lengthAdjust="spacingAndGlyphs">v</tspan><tspan x="78.31" y="5.66" font-size="23.56" font-style="normal" textLength="11.88" lengthAdjust="spacingAndGlyphs">0</tspan><tspan x="90.92" y="0.32" font-size="38.01" font-style="normal" textLength="14.10" lengthAdjust="spacingAndGlyphs">)</tspan></text>
<text font-family="'Liberation Serif', 'DejaVu Serif', serif" fill="#333333"><tspan x="1311.02" y="671.00" font-size="34.68" font-style="italic" textLength="15.90" lengthAdjust="spacingAndGlyphs">r</tspan><tspan x="1329.65" y="679.56" font-size="53.58" font-style="normal" textLength="14.22" lengthAdjust="spacingAndGlyphs">/</tspan><tspan x="1345.50" y="670.70" font-size="30.48" font-style="italic" textLength="18.83" lengthAdjust="spacingAndGlyphs">σ</tspan></text>
<text transform="translate(892.0 360.2) rotate(-90)" font-family="'Liberation Serif', 'DejaVu Serif', serif" fill="#333333"><tspan x="-2.27" y="-1.62" font-size="39.14" font-style="italic" textLength="23.55" lengthAdjust="spacingAndGlyphs">ψ</tspan><tspan x="24.52" y="0.32" font-size="38.01" font-style="normal" textLength="14.63" lengthAdjust="spacingAndGlyphs">(</tspan><tspan x="37.08" y="-0.00" font-size="33.19" font-style="italic" textLength="14.80" lengthAdjust="spacingAndGlyphs">r</tspan><tspan x="55.35" y="0.27" font-size="37.80" font-style="normal" textLength="6.81" lengthAdjust="spacingAndGlyphs">|</tspan><tspan x="62.89" y="-0.14" font-size="33.62" font-style="italic" textLength="15.18" lengthAdjust="spacingAndGlyphs">v</tspan><tspan x="78.31" y="5.66" font-size="23.56" font-style="normal" textLength="11.88" lengthAdjust="spacingAndGlyphs">0</tspan><tspan x="90.92" y="0.32" font-size="38.01" font-style="normal" textLength="14.10" lengthAdjust="spacingAndGlyphs">)</tspan></text>
</svg>
</body>
</html>
